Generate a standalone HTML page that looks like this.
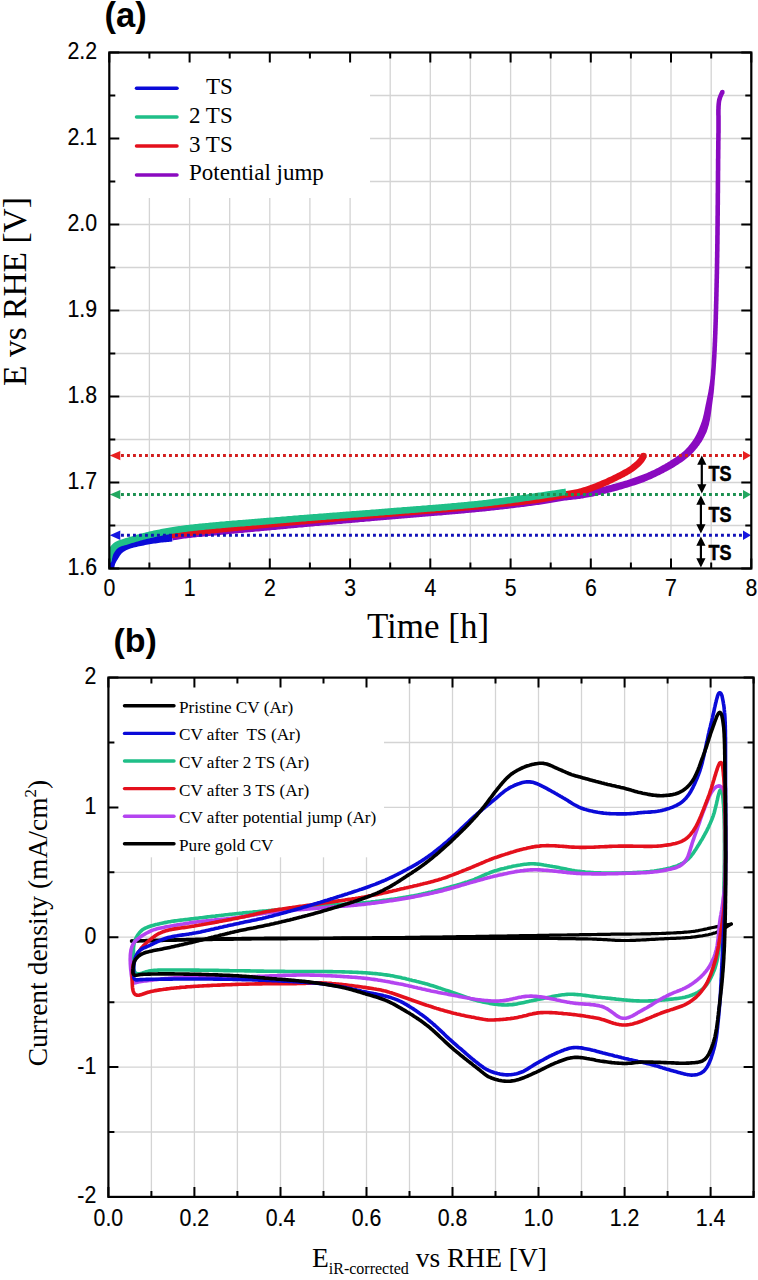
<!DOCTYPE html>
<html><head><meta charset="utf-8"><style>html,body{margin:0;padding:0;background:#fff;width:758px;height:1280px;overflow:hidden}svg{display:block}</style></head><body>
<svg width="758" height="1280" viewBox="0 0 758 1280">
<defs><clipPath id="ca"><rect x="109.3" y="52.5" width="642" height="516"/></clipPath><clipPath id="cb"><rect x="108.4" y="677.6" width="645.2" height="519.3"/></clipPath></defs>
<rect width="758" height="1280" fill="#fff"/>
<path d="M149.4 52.5V568.5M189.6 52.5V568.5M229.7 52.5V568.5M269.8 52.5V568.5M309.9 52.5V568.5M350.1 52.5V568.5M390.2 52.5V568.5M430.3 52.5V568.5M470.4 52.5V568.5M510.6 52.5V568.5M550.7 52.5V568.5M590.8 52.5V568.5M630.9 52.5V568.5M671.0 52.5V568.5M711.2 52.5V568.5M109.3 525.5H751.3M109.3 482.5H751.3M109.3 439.5H751.3M109.3 396.5H751.3M109.3 353.5H751.3M109.3 310.5H751.3M109.3 267.5H751.3M109.3 224.5H751.3M109.3 181.5H751.3M109.3 138.5H751.3M109.3 95.5H751.3" stroke="#d4d4d4" stroke-width="1.3" fill="none"/>
<rect x="110.3" y="53.5" width="259.7" height="144.5" fill="#fff"/>
<path d="M151.4 677.6V1196.9M194.4 677.6V1196.9M237.4 677.6V1196.9M280.5 677.6V1196.9M323.5 677.6V1196.9M366.5 677.6V1196.9M409.5 677.6V1196.9M452.5 677.6V1196.9M495.5 677.6V1196.9M538.5 677.6V1196.9M581.5 677.6V1196.9M624.6 677.6V1196.9M667.6 677.6V1196.9M710.6 677.6V1196.9M108.4 1132.0H753.6M108.4 1067.1H753.6M108.4 1002.2H753.6M108.4 937.2H753.6M108.4 872.3H753.6M108.4 807.4H753.6M108.4 742.5H753.6" stroke="#d4d4d4" stroke-width="1.3" fill="none"/>
<rect x="109.4" y="678.6" width="274.6" height="178.7" fill="#fff"/>
<g clip-path="url(#ca)"><path d="M172.7,540.5 174.8,540.1 175.8,539.9 177.1,539.7 178.5,539.4 179.9,539.2 181.4,539.0 182.8,538.8 184.3,538.6 185.7,538.4 187.2,538.2 188.7,538.1 190.2,537.9 191.7,537.7 193.2,537.6 194.6,537.4 196.1,537.3 197.6,537.1 199.1,537.0 200.6,536.8 202.1,536.7 203.6,536.5 205.1,536.4 206.6,536.2 208.0,536.1 209.5,535.9 211.0,535.8 212.5,535.6 214.0,535.5 215.5,535.4 217.0,535.2 218.5,535.1 220.0,534.9 221.5,534.8 223.0,534.7 224.5,534.5 225.9,534.4 227.4,534.2 228.9,534.1 230.4,534.0 231.9,533.8 233.4,533.7 234.9,533.6 236.4,533.4 237.9,533.3 239.4,533.1 240.9,533.0 242.4,532.9 243.9,532.7 245.4,532.6 246.9,532.5 248.3,532.3 249.8,532.2 251.3,532.0 252.8,531.9 254.3,531.8 255.8,531.6 257.3,531.5 258.8,531.4 260.3,531.2 261.8,531.1 263.3,531.0 264.8,530.8 266.3,530.7 267.8,530.5 269.3,530.4 270.8,530.3 272.3,530.1 273.7,530.0 275.2,529.9 276.7,529.7 278.2,529.6 279.7,529.4 281.2,529.3 282.7,529.2 284.2,529.0 285.7,528.9 287.2,528.7 288.7,528.6 290.2,528.5 291.7,528.3 293.2,528.2 294.7,528.1 296.1,527.9 297.6,527.8 299.1,527.6 300.6,527.5 302.1,527.4 303.6,527.2 305.1,527.1 306.6,527.0 308.1,526.8 309.6,526.7 311.1,526.6 312.6,526.4 314.1,526.3 315.6,526.1 317.1,526.0 318.6,525.9 320.0,525.7 321.5,525.6 323.0,525.5 324.5,525.3 326.0,525.2 327.5,525.1 329.0,524.9 330.5,524.8 332.0,524.7 333.5,524.5 335.0,524.4 336.5,524.3 338.0,524.1 339.5,524.0 341.0,523.9 342.5,523.7 343.9,523.6 345.4,523.5 346.9,523.3 348.4,523.2 349.9,523.1 351.4,522.9 352.9,522.8 354.4,522.7 355.9,522.5 357.4,522.4 358.9,522.3 360.4,522.1 361.9,522.0 363.4,521.9 364.9,521.7 366.4,521.6 367.8,521.5 369.3,521.4 370.8,521.2 372.3,521.1 373.8,521.0 375.3,520.8 376.8,520.7 378.3,520.6 379.8,520.4 381.3,520.3 382.8,520.2 384.3,520.0 385.8,519.9 387.3,519.8 388.8,519.7 390.3,519.5 391.7,519.4 393.2,519.3 394.7,519.2 396.2,519.0 397.7,518.9 399.2,518.8 400.7,518.7 402.2,518.5 403.7,518.4 405.2,518.3 406.7,518.2 408.2,518.0 409.7,517.9 411.2,517.8 412.7,517.7 414.2,517.6 415.7,517.4 417.1,517.3 418.6,517.2 420.1,517.1 421.6,516.9 423.1,516.8 424.6,516.7 426.1,516.6 427.6,516.5 429.1,516.3 430.6,516.2 432.1,516.1 433.6,516.0 435.1,515.8 436.6,515.7 438.1,515.6 439.6,515.5 441.1,515.4 442.6,515.2 444.1,515.1 445.6,515.0 447.1,514.8 448.6,514.7 450.1,514.6 451.5,514.5 453.0,514.3 454.5,514.2 456.0,514.1 457.5,513.9 459.0,513.8 460.5,513.7 462.0,513.5 463.5,513.4 465.0,513.3 466.5,513.1 468.0,513.0 469.5,512.8 471.0,512.7 472.5,512.6 474.0,512.4 475.5,512.3 477.0,512.1 478.5,512.0 480.0,511.8 481.5,511.7 483.0,511.5 484.5,511.4 486.0,511.2 487.5,511.0 489.0,510.9 490.4,510.7 491.9,510.6 493.4,510.4 494.9,510.2 496.4,510.1 497.9,509.9 499.4,509.7 500.9,509.6 502.4,509.4 503.9,509.2 505.4,509.0 506.9,508.9 508.4,508.7 509.9,508.5 511.4,508.3 512.8,508.2 514.3,508.0 515.8,507.8 517.3,507.6 518.8,507.4 520.3,507.2 521.8,507.1 523.3,506.9 524.8,506.7 526.3,506.5 527.8,506.3 529.3,506.1 530.7,505.9 532.2,505.7 533.7,505.5 535.2,505.3 536.7,505.1 538.2,504.9 539.7,504.7 541.2,504.5 542.7,504.2 544.2,504.0 545.7,503.8 547.2,503.5 548.7,503.3 550.2,503.0 551.7,502.7 553.1,502.5 554.6,502.2 556.1,501.9 557.6,501.7 559.0,501.4 560.5,501.2 561.9,501.0 563.4,500.7 564.8,500.5 566.3,500.4 567.7,500.2 569.2,500.0 570.7,499.9 572.2,499.7 573.7,499.6 575.2,499.4 576.7,499.3 578.2,499.1 579.8,498.9 581.3,498.6 582.8,498.4 584.3,498.1 585.8,497.8 587.3,497.6 588.8,497.3 590.3,497.0 591.8,496.7 593.3,496.4 594.7,496.0 596.2,495.7 597.7,495.4 599.2,495.1 600.7,494.7 602.1,494.4 603.6,494.1 605.1,493.7 606.6,493.3 608.0,493.0 609.5,492.6 611.0,492.2 612.4,491.8 613.9,491.5 615.3,491.1 616.8,490.7 618.3,490.2 619.7,489.8 621.2,489.4 622.6,489.0 624.1,488.6 625.5,488.1 627.0,487.7 628.4,487.2 629.9,486.8 631.3,486.3 632.8,485.8 634.2,485.4 635.6,484.9 637.1,484.4 638.5,483.9 639.9,483.4 641.4,482.9 642.8,482.4 644.3,481.9 645.7,481.3 647.1,480.7 648.5,480.1 650.0,479.5 651.4,478.9 652.8,478.3 654.2,477.6 655.6,477.0 656.9,476.3 658.3,475.6 659.7,475.0 661.0,474.3 662.4,473.6 663.7,472.9 665.1,472.1 666.4,471.4 667.7,470.7 669.1,470.0 670.4,469.2 671.7,468.4 673.1,467.7 674.4,466.9 675.7,466.1 677.0,465.3 678.3,464.4 679.6,463.6 680.8,462.7 682.1,461.9 683.4,461.0 684.7,460.1 685.9,459.1 687.2,458.1 688.4,457.1 689.6,456.1 690.8,455.0 691.9,453.8 693.0,452.7 694.1,451.5 695.2,450.3 696.2,449.1 697.2,447.9 698.1,446.6 699.1,445.4 700.0,444.1 700.9,442.7 701.8,441.4 702.6,440.0 703.4,438.6 704.1,437.2 704.8,435.8 705.5,434.3 706.2,432.9 706.8,431.4 707.3,429.9 707.8,428.4 708.2,426.9 708.7,425.4 709.1,423.9 709.4,422.3 709.8,420.8 710.1,419.3 710.3,417.7 710.6,416.2 710.8,414.7 711.0,413.2 711.2,411.7 711.4,410.2 711.6,408.7 711.8,407.2 712.0,405.7 712.2,404.2 712.4,402.7 712.6,401.3 712.8,399.8 713.0,398.3 713.2,396.8 713.4,395.3 713.6,393.8 713.8,392.2 713.9,390.7 714.1,389.2 714.2,387.7 714.3,386.2 714.5,384.7 714.6,383.2 714.7,381.7 714.8,380.2 715.0,378.7 715.1,377.2 715.2,375.7 715.4,374.2 715.5,372.7 715.6,371.2 715.7,369.7 715.8,368.2 715.9,366.7 716.0,365.1 716.1,363.6 716.2,362.1 716.3,360.6 716.4,359.1 716.5,357.6 716.6,356.1 716.6,354.6 716.7,353.1 716.8,351.6 716.9,350.1 716.9,348.6 717.0,347.1 717.1,345.6 717.1,344.1 717.2,342.6 717.3,341.1 717.3,339.6 717.4,338.1 717.4,336.6 717.5,335.1 717.6,333.6 717.6,332.1 717.7,330.6 717.7,329.1 717.8,327.6 717.8,326.1 717.9,324.6 717.9,323.1 718.0,321.6 718.0,320.1 718.1,318.6 718.1,317.1 718.1,315.6 718.2,314.1 718.2,312.6 718.3,311.1 718.3,309.6 718.4,308.1 718.4,306.6 718.4,305.1 718.5,303.6 718.5,302.1 718.6,300.6 718.6,299.1 718.6,297.6 718.7,296.1 718.7,294.6 718.7,293.1 718.8,291.6 718.8,290.1 718.8,288.6 718.9,287.1 718.9,285.6 718.9,284.1 719.0,282.6 719.0,281.1 719.0,279.6 719.1,278.1 719.1,276.6 719.1,275.1 719.2,273.6 719.2,272.1 719.2,270.6 719.3,269.1 719.3,267.6 719.3,266.1 719.3,264.6 719.4,263.1 719.4,261.6 719.4,260.1 719.4,258.6 719.5,257.1 719.5,255.6 719.5,254.1 719.5,252.6 719.6,251.1 719.6,249.6 719.6,248.1 719.6,246.6 719.6,245.1 719.7,243.6 719.7,242.1 719.7,240.6 719.7,239.1 719.7,237.6 719.7,236.1 719.8,234.6 719.8,233.1 719.8,231.6 719.8,230.1 719.8,228.6 719.8,227.1 719.9,225.6 719.9,224.1 719.9,222.6 719.9,221.1 719.9,219.6 719.9,218.1 719.9,216.6 720.0,215.1 720.0,213.6 720.0,212.1 720.0,210.6 720.0,209.1 720.0,207.6 720.0,206.1 720.1,204.6 720.1,203.1 720.1,201.6 720.1,200.1 720.1,198.6 720.1,197.1 720.1,195.6 720.1,194.1 720.2,192.6 720.2,191.1 720.2,189.6 720.2,188.1 720.2,186.6 720.2,185.1 720.2,183.6 720.2,182.1 720.3,180.6 720.3,179.1 720.3,177.6 720.3,176.1 720.3,174.6 720.3,173.1 720.3,171.6 720.4,170.1 720.4,168.6 720.4,167.1 720.4,165.6 720.4,164.1 720.4,162.6 720.4,161.1 720.4,159.6 720.5,158.1 720.5,156.6 720.5,155.1 720.5,153.6 720.5,152.1 720.5,150.6 720.6,149.1 720.6,147.6 720.6,146.1 720.6,144.6 720.6,143.1 720.6,141.6 720.7,140.1 720.7,138.6 720.7,137.1 720.7,135.6 720.7,134.1 720.8,132.6 720.8,131.1 720.8,129.6 720.8,128.1 720.8,126.6 720.8,125.1 720.8,123.6 720.8,122.0 720.8,120.5 720.8,119.0 720.8,117.5 720.8,116.0 720.7,114.5 720.7,113.1 720.7,111.6 720.7,110.1 720.8,108.6 720.8,107.2 720.9,105.7 721.0,104.3 721.1,102.9 721.3,101.5 721.6,100.2 722.0,98.9 722.4,97.6 722.9,96.4 723.4,95.3 723.8,94.5 724.5,93.0 720.3,91.0 719.6,92.6 719.2,93.4 718.7,94.6 718.1,96.0 717.6,97.5 717.1,99.1 716.8,100.7 716.6,102.3 716.4,103.9 716.3,105.4 716.2,107.0 716.2,108.5 716.1,110.0 716.1,111.6 716.1,113.1 716.1,114.6 716.2,116.1 716.2,117.6 716.2,119.1 716.2,120.6 716.2,122.1 716.2,123.6 716.2,125.1 716.2,126.6 716.2,128.0 716.2,129.5 716.2,131.0 716.2,132.5 716.1,134.0 716.1,135.5 716.1,137.0 716.1,138.5 716.1,140.0 716.0,141.5 716.0,143.0 716.0,144.5 716.0,146.0 716.0,147.5 716.0,149.0 715.9,150.5 715.9,152.0 715.9,153.5 715.9,155.0 715.9,156.5 715.9,158.0 715.8,159.5 715.8,161.0 715.8,162.5 715.8,164.0 715.8,165.5 715.8,167.0 715.8,168.5 715.8,170.0 715.7,171.5 715.7,173.0 715.7,174.5 715.7,176.0 715.7,177.5 715.7,179.0 715.7,180.5 715.6,182.0 715.6,183.5 715.6,185.0 715.6,186.5 715.6,188.0 715.6,189.5 715.6,191.0 715.6,192.5 715.5,194.0 715.5,195.5 715.5,197.0 715.5,198.5 715.5,200.0 715.5,201.5 715.5,203.0 715.5,204.5 715.4,206.0 715.4,207.5 715.4,209.0 715.4,210.5 715.4,212.0 715.4,213.5 715.4,215.0 715.3,216.5 715.3,218.0 715.3,219.5 715.3,221.0 715.3,222.5 715.3,224.0 715.3,225.5 715.2,227.0 715.2,228.5 715.2,230.0 715.2,231.5 715.2,233.0 715.2,234.5 715.1,236.0 715.1,237.5 715.1,239.0 715.1,240.5 715.1,242.0 715.1,243.5 715.0,245.0 715.0,246.5 715.0,248.0 715.0,249.5 715.0,251.0 714.9,252.5 714.9,254.0 714.9,255.5 714.9,257.0 714.8,258.5 714.8,260.0 714.8,261.5 714.8,263.0 714.7,264.5 714.7,266.0 714.7,267.5 714.7,269.0 714.6,270.5 714.6,272.0 714.6,273.5 714.5,275.0 714.5,276.5 714.5,278.0 714.4,279.5 714.4,281.0 714.4,282.5 714.3,284.0 714.3,285.5 714.3,287.0 714.2,288.5 714.2,290.0 714.2,291.5 714.1,293.0 714.1,294.5 714.1,296.0 714.0,297.5 714.0,299.0 714.0,300.5 713.9,302.0 713.9,303.5 713.8,305.0 713.8,306.5 713.8,308.0 713.7,309.5 713.7,311.0 713.6,312.5 713.6,314.0 713.5,315.5 713.5,317.0 713.5,318.5 713.4,320.0 713.4,321.5 713.3,323.0 713.3,324.5 713.2,326.0 713.2,327.5 713.1,329.0 713.1,330.5 713.0,332.0 713.0,333.4 712.9,334.9 712.9,336.4 712.8,337.9 712.7,339.4 712.7,340.9 712.6,342.4 712.5,343.9 712.5,345.4 712.4,346.9 712.3,348.4 712.3,349.9 712.2,351.4 712.1,352.9 712.1,354.4 712.0,355.9 711.9,357.4 711.8,358.9 711.7,360.4 711.6,361.9 711.6,363.4 711.5,364.8 711.4,366.3 711.3,367.8 711.1,369.3 711.0,370.8 710.9,372.3 710.8,373.8 710.7,375.3 710.5,376.7 710.4,378.2 710.2,379.7 710.0,381.2 709.8,382.7 709.6,384.1 709.4,385.6 709.1,387.1 708.9,388.5 708.6,390.0 708.4,391.5 708.1,392.9 707.8,394.4 707.5,395.8 707.2,397.3 706.9,398.8 706.6,400.2 706.3,401.7 706.0,403.2 705.7,404.6 705.4,406.1 705.1,407.6 704.8,409.0 704.5,410.5 704.2,412.0 703.9,413.4 703.6,414.8 703.2,416.3 702.9,417.7 702.5,419.0 702.1,420.4 701.7,421.8 701.2,423.1 700.7,424.4 700.2,425.8 699.7,427.1 699.1,428.4 698.6,429.7 698.1,431.0 697.5,432.3 696.9,433.6 696.3,434.8 695.6,436.1 694.9,437.3 694.2,438.5 693.5,439.6 692.7,440.8 691.8,442.0 691.0,443.1 690.1,444.2 689.2,445.3 688.3,446.4 687.4,447.5 686.4,448.5 685.5,449.5 684.5,450.5 683.4,451.4 682.4,452.3 681.3,453.2 680.2,454.1 679.0,454.9 677.8,455.7 676.6,456.6 675.4,457.4 674.2,458.2 673.0,459.0 671.8,459.8 670.5,460.6 669.3,461.4 668.0,462.1 666.8,462.9 665.5,463.6 664.2,464.4 662.9,465.1 661.6,465.8 660.3,466.5 659.0,467.2 657.7,467.9 656.4,468.5 655.1,469.2 653.8,469.9 652.4,470.5 651.1,471.1 649.8,471.7 648.4,472.3 647.1,472.9 645.8,473.5 644.4,474.1 643.1,474.6 641.7,475.1 640.3,475.6 638.9,476.1 637.6,476.6 636.2,477.1 634.8,477.6 633.3,478.1 631.9,478.5 630.5,479.0 629.1,479.5 627.7,479.9 626.3,480.4 624.9,480.8 623.4,481.2 622.0,481.7 620.6,482.1 619.2,482.5 617.7,482.9 616.3,483.3 614.9,483.7 613.4,484.1 612.0,484.5 610.6,484.9 609.1,485.3 607.7,485.6 606.3,486.0 604.8,486.4 603.4,486.7 601.9,487.0 600.5,487.4 599.1,487.7 597.6,488.0 596.1,488.4 594.7,488.7 593.2,489.0 591.8,489.3 590.3,489.6 588.9,489.9 587.4,490.2 586.0,490.5 584.5,490.8 583.1,491.0 581.6,491.3 580.2,491.5 578.7,491.7 577.3,491.9 575.9,492.1 574.4,492.3 572.9,492.4 571.4,492.6 570.0,492.7 568.4,492.9 566.9,493.0 565.4,493.2 563.9,493.4 562.3,493.6 560.8,493.8 559.3,494.1 557.8,494.3 556.3,494.6 554.8,494.9 553.4,495.1 551.9,495.4 550.4,495.7 548.9,495.9 547.5,496.2 546.0,496.4 544.5,496.7 543.1,496.9 541.6,497.1 540.1,497.3 538.7,497.5 537.2,497.8 535.7,498.0 534.2,498.2 532.8,498.4 531.3,498.6 529.8,498.8 528.3,499.0 526.8,499.2 525.4,499.4 523.9,499.5 522.4,499.7 520.9,499.9 519.4,500.1 517.9,500.3 516.4,500.5 515.0,500.7 513.5,500.8 512.0,501.0 510.5,501.2 509.0,501.4 507.5,501.5 506.0,501.7 504.6,501.9 503.1,502.1 501.6,502.2 500.1,502.4 498.6,502.6 497.1,502.7 495.6,502.9 494.1,503.1 492.7,503.2 491.2,503.4 489.7,503.6 488.2,503.7 486.7,503.9 485.2,504.0 483.7,504.2 482.2,504.3 480.7,504.5 479.3,504.7 477.8,504.8 476.3,505.0 474.8,505.1 473.3,505.3 471.8,505.4 470.3,505.5 468.8,505.7 467.3,505.8 465.8,506.0 464.4,506.1 462.9,506.2 461.4,506.4 459.9,506.5 458.4,506.6 456.9,506.8 455.4,506.9 453.9,507.0 452.4,507.2 450.9,507.3 449.4,507.4 447.9,507.5 446.5,507.7 445.0,507.8 443.5,507.9 442.0,508.1 440.5,508.2 439.0,508.3 437.5,508.4 436.0,508.5 434.5,508.7 433.0,508.8 431.5,508.9 430.0,509.0 428.5,509.2 427.0,509.3 425.5,509.4 424.0,509.5 422.5,509.6 421.1,509.8 419.6,509.9 418.1,510.0 416.6,510.1 415.1,510.3 413.6,510.4 412.1,510.5 410.6,510.6 409.1,510.7 407.6,510.9 406.1,511.0 404.6,511.1 403.1,511.2 401.6,511.4 400.1,511.5 398.6,511.6 397.1,511.7 395.6,511.9 394.1,512.0 392.6,512.1 391.1,512.2 389.6,512.4 388.1,512.5 386.7,512.6 385.2,512.7 383.7,512.9 382.2,513.0 380.7,513.1 379.2,513.3 377.7,513.4 376.2,513.5 374.7,513.7 373.2,513.8 371.7,513.9 370.2,514.0 368.7,514.2 367.2,514.3 365.7,514.4 364.2,514.6 362.7,514.7 361.2,514.8 359.7,515.0 358.3,515.1 356.8,515.2 355.3,515.4 353.8,515.5 352.3,515.6 350.8,515.8 349.3,515.9 347.8,516.0 346.3,516.2 344.8,516.3 343.3,516.4 341.8,516.6 340.3,516.7 338.8,516.8 337.3,517.0 335.8,517.1 334.3,517.2 332.8,517.4 331.4,517.5 329.9,517.6 328.4,517.8 326.9,517.9 325.4,518.0 323.9,518.2 322.4,518.3 320.9,518.4 319.4,518.6 317.9,518.7 316.4,518.8 314.9,519.0 313.4,519.1 311.9,519.2 310.4,519.4 308.9,519.5 307.4,519.7 305.9,519.8 304.5,519.9 303.0,520.1 301.5,520.2 300.0,520.3 298.5,520.5 297.0,520.6 295.5,520.7 294.0,520.9 292.5,521.0 291.0,521.2 289.5,521.3 288.0,521.4 286.5,521.6 285.0,521.7 283.5,521.9 282.0,522.0 280.5,522.1 279.1,522.3 277.6,522.4 276.1,522.6 274.6,522.7 273.1,522.8 271.6,523.0 270.1,523.1 268.6,523.2 267.1,523.4 265.6,523.5 264.1,523.7 262.6,523.8 261.1,523.9 259.6,524.1 258.2,524.2 256.7,524.3 255.2,524.5 253.7,524.6 252.2,524.7 250.7,524.9 249.2,525.0 247.7,525.1 246.2,525.3 244.7,525.4 243.2,525.6 241.7,525.7 240.2,525.8 238.7,526.0 237.2,526.1 235.7,526.2 234.2,526.4 232.8,526.5 231.3,526.7 229.8,526.8 228.3,526.9 226.8,527.1 225.3,527.2 223.8,527.3 222.3,527.5 220.8,527.6 219.3,527.8 217.8,527.9 216.3,528.1 214.8,528.2 213.3,528.3 211.8,528.5 210.3,528.6 208.8,528.8 207.3,528.9 205.9,529.1 204.4,529.2 202.9,529.4 201.4,529.5 199.9,529.6 198.4,529.8 196.9,530.0 195.4,530.1 193.9,530.3 192.4,530.4 190.9,530.6 189.4,530.7 187.9,530.9 186.4,531.1 184.9,531.3 183.4,531.4 181.9,531.6 180.3,531.8 178.8,532.1 177.3,532.3 175.8,532.6 174.4,532.8 173.4,533.0 171.3,533.5Z" fill="#8a0ac0"/><circle cx="722.4" cy="92.0" r="2.30" fill="#8a0ac0"/>
<path d="M165.5,539.3 167.6,538.9 168.7,538.8 170.0,538.6 171.4,538.3 172.9,538.1 174.4,537.9 175.9,537.7 177.3,537.5 178.8,537.3 180.3,537.1 181.8,536.9 183.2,536.7 184.7,536.5 186.2,536.4 187.7,536.2 189.2,536.0 190.7,535.9 192.2,535.7 193.7,535.5 195.1,535.3 196.6,535.2 198.1,535.0 199.6,534.9 201.1,534.7 202.6,534.5 204.1,534.4 205.6,534.2 207.1,534.0 208.6,533.9 210.1,533.7 211.6,533.6 213.1,533.4 214.5,533.2 216.0,533.1 217.5,532.9 219.0,532.8 220.5,532.6 222.0,532.5 223.5,532.3 225.0,532.1 226.5,532.0 228.0,531.8 229.5,531.7 231.0,531.5 232.5,531.4 234.0,531.2 235.5,531.1 236.9,530.9 238.4,530.8 239.9,530.6 241.4,530.4 242.9,530.3 244.4,530.1 245.9,530.0 247.4,529.8 248.9,529.7 250.4,529.5 251.9,529.4 253.4,529.2 254.9,529.1 256.4,528.9 257.9,528.8 259.4,528.6 260.8,528.5 262.3,528.3 263.8,528.2 265.3,528.0 266.8,527.9 268.3,527.8 269.8,527.6 271.3,527.5 272.8,527.3 274.3,527.2 275.8,527.0 277.3,526.9 278.8,526.7 280.3,526.6 281.8,526.4 283.3,526.3 284.8,526.2 286.3,526.0 287.7,525.9 289.2,525.7 290.7,525.6 292.2,525.5 293.7,525.3 295.2,525.2 296.7,525.0 298.2,524.9 299.7,524.8 301.2,524.6 302.7,524.5 304.2,524.4 305.7,524.2 307.2,524.1 308.7,524.0 310.2,523.8 311.7,523.7 313.2,523.6 314.7,523.4 316.2,523.3 317.6,523.2 319.1,523.0 320.6,522.9 322.1,522.8 323.6,522.6 325.1,522.5 326.6,522.4 328.1,522.3 329.6,522.1 331.1,522.0 332.6,521.9 334.1,521.7 335.6,521.6 337.1,521.5 338.6,521.3 340.1,521.2 341.6,521.1 343.1,521.0 344.6,520.8 346.1,520.7 347.6,520.6 349.1,520.5 350.6,520.3 352.1,520.2 353.6,520.1 355.1,519.9 356.6,519.8 358.0,519.7 359.5,519.6 361.0,519.4 362.5,519.3 364.0,519.2 365.5,519.1 367.0,518.9 368.5,518.8 370.0,518.7 371.5,518.5 373.0,518.4 374.5,518.3 376.0,518.2 377.5,518.0 379.0,517.9 380.5,517.8 382.0,517.6 383.5,517.5 385.0,517.4 386.5,517.3 388.0,517.1 389.5,517.0 391.0,516.9 392.5,516.8 394.0,516.6 395.5,516.5 397.0,516.4 398.5,516.3 400.0,516.1 401.4,516.0 402.9,515.9 404.4,515.8 405.9,515.6 407.4,515.5 408.9,515.4 410.4,515.3 411.9,515.2 413.4,515.0 414.9,514.9 416.4,514.8 417.9,514.7 419.4,514.5 420.9,514.4 422.4,514.3 423.9,514.2 425.4,514.1 426.9,513.9 428.4,513.8 429.9,513.7 431.4,513.6 432.9,513.4 434.4,513.3 435.9,513.2 437.4,513.1 438.9,513.0 440.4,512.8 441.9,512.7 443.4,512.6 444.9,512.5 446.4,512.3 447.9,512.2 449.4,512.1 450.9,511.9 452.4,511.8 453.9,511.7 455.4,511.6 456.9,511.4 458.4,511.3 459.9,511.2 461.4,511.0 462.8,510.9 464.3,510.8 465.8,510.6 467.3,510.5 468.8,510.4 470.3,510.2 471.8,510.1 473.3,510.0 474.8,509.8 476.3,509.7 477.8,509.5 479.3,509.4 480.8,509.2 482.3,509.1 483.8,508.9 485.3,508.8 486.8,508.6 488.3,508.5 489.8,508.3 491.3,508.2 492.8,508.1 494.3,507.9 495.8,507.8 497.3,507.6 498.8,507.5 500.3,507.3 501.8,507.1 503.3,507.0 504.8,506.8 506.3,506.7 507.8,506.5 509.3,506.4 510.7,506.2 512.2,506.0 513.7,505.9 515.2,505.7 516.7,505.6 518.2,505.4 519.7,505.2 521.2,505.0 522.7,504.9 524.2,504.7 525.7,504.5 527.2,504.3 528.7,504.2 530.2,504.0 531.7,503.8 533.2,503.6 534.7,503.4 536.2,503.2 537.7,503.0 539.2,502.7 540.7,502.5 542.2,502.3 543.7,502.1 545.2,501.8 546.7,501.5 548.2,501.3 549.7,501.0 551.2,500.7 552.7,500.4 554.2,500.1 555.6,499.8 557.1,499.5 558.6,499.2 560.1,498.9 561.5,498.6 563.0,498.4 564.4,498.1 565.9,497.8 567.4,497.6 568.8,497.3 570.3,497.1 571.8,496.8 573.3,496.6 574.8,496.3 576.3,496.0 577.9,495.7 579.4,495.3 580.9,494.9 582.4,494.5 583.9,494.1 585.4,493.6 586.8,493.2 588.3,492.7 589.7,492.2 591.2,491.7 592.6,491.2 594.1,490.6 595.5,490.1 596.9,489.6 598.3,489.0 599.7,488.5 601.1,487.9 602.6,487.3 604.0,486.7 605.4,486.1 606.8,485.5 608.2,484.9 609.6,484.3 610.9,483.6 612.3,483.0 613.7,482.3 615.1,481.6 616.4,481.0 617.8,480.3 619.1,479.6 620.5,478.9 621.8,478.3 623.2,477.6 624.5,476.9 625.9,476.1 627.2,475.4 628.6,474.6 630.0,473.8 631.3,473.0 632.6,472.1 633.9,471.2 635.2,470.3 636.5,469.3 637.7,468.3 638.9,467.3 640.1,466.2 641.3,465.1 642.4,463.8 643.5,462.5 644.4,461.2 645.2,460.0 645.7,459.1 646.4,457.5 640.6,454.5 639.8,456.0 639.5,456.7 639.0,457.5 638.3,458.5 637.4,459.5 636.5,460.5 635.5,461.4 634.5,462.3 633.4,463.3 632.3,464.1 631.2,465.0 630.1,465.9 628.9,466.7 627.7,467.4 626.5,468.2 625.3,468.9 624.0,469.6 622.7,470.3 621.5,471.0 620.1,471.7 618.8,472.4 617.5,473.1 616.2,473.7 614.8,474.4 613.5,475.1 612.2,475.7 610.8,476.4 609.5,477.0 608.1,477.6 606.8,478.3 605.5,478.9 604.1,479.5 602.8,480.1 601.4,480.6 600.0,481.2 598.7,481.8 597.3,482.3 595.9,482.9 594.5,483.4 593.1,483.9 591.8,484.5 590.4,485.0 589.0,485.5 587.6,486.0 586.2,486.4 584.8,486.9 583.4,487.3 582.0,487.8 580.6,488.2 579.2,488.6 577.8,488.9 576.4,489.2 575.0,489.5 573.6,489.8 572.1,490.1 570.7,490.3 569.2,490.6 567.7,490.8 566.2,491.1 564.7,491.3 563.2,491.6 561.7,491.9 560.3,492.2 558.8,492.5 557.3,492.8 555.8,493.1 554.3,493.4 552.9,493.7 551.4,493.9 550.0,494.2 548.5,494.5 547.0,494.8 545.6,495.0 544.1,495.3 542.7,495.5 541.2,495.8 539.7,496.0 538.3,496.2 536.8,496.4 535.3,496.6 533.8,496.8 532.3,497.0 530.9,497.2 529.4,497.4 527.9,497.6 526.4,497.8 524.9,498.0 523.4,498.1 522.0,498.3 520.5,498.5 519.0,498.7 517.5,498.8 516.0,499.0 514.5,499.2 513.0,499.3 511.5,499.5 510.0,499.6 508.6,499.8 507.1,500.0 505.6,500.1 504.1,500.3 502.6,500.4 501.1,500.6 499.6,500.7 498.1,500.9 496.6,501.0 495.1,501.2 493.6,501.3 492.1,501.5 490.6,501.6 489.2,501.8 487.7,501.9 486.2,502.1 484.7,502.2 483.2,502.4 481.7,502.5 480.2,502.7 478.7,502.8 477.2,503.0 475.7,503.1 474.2,503.2 472.7,503.4 471.2,503.5 469.7,503.7 468.2,503.8 466.7,503.9 465.3,504.1 463.8,504.2 462.3,504.3 460.8,504.5 459.3,504.6 457.8,504.7 456.3,504.9 454.8,505.0 453.3,505.1 451.8,505.2 450.3,505.4 448.8,505.5 447.3,505.6 445.8,505.8 444.3,505.9 442.8,506.0 441.3,506.1 439.8,506.3 438.3,506.4 436.8,506.5 435.3,506.6 433.8,506.7 432.4,506.9 430.9,507.0 429.4,507.1 427.9,507.2 426.4,507.4 424.9,507.5 423.4,507.6 421.9,507.7 420.4,507.8 418.9,508.0 417.4,508.1 415.9,508.2 414.4,508.3 412.9,508.5 411.4,508.6 409.9,508.7 408.4,508.8 406.9,508.9 405.4,509.1 403.9,509.2 402.4,509.3 400.9,509.4 399.4,509.6 397.9,509.7 396.4,509.8 394.9,509.9 393.4,510.1 391.9,510.2 390.4,510.3 388.9,510.4 387.4,510.6 385.9,510.7 384.4,510.8 382.9,510.9 381.4,511.1 379.9,511.2 378.4,511.3 376.9,511.5 375.4,511.6 374.0,511.7 372.5,511.8 371.0,512.0 369.5,512.1 368.0,512.2 366.5,512.4 365.0,512.5 363.5,512.6 362.0,512.7 360.5,512.9 359.0,513.0 357.5,513.1 356.0,513.2 354.5,513.4 353.0,513.5 351.5,513.6 350.0,513.8 348.5,513.9 347.0,514.0 345.5,514.1 344.0,514.3 342.5,514.4 341.0,514.5 339.5,514.6 338.0,514.8 336.5,514.9 335.0,515.0 333.5,515.2 332.0,515.3 330.5,515.4 329.0,515.5 327.5,515.7 326.1,515.8 324.6,515.9 323.1,516.1 321.6,516.2 320.1,516.3 318.6,516.5 317.1,516.6 315.6,516.7 314.1,516.9 312.6,517.0 311.1,517.1 309.6,517.3 308.1,517.4 306.6,517.5 305.1,517.7 303.6,517.8 302.1,517.9 300.6,518.1 299.1,518.2 297.6,518.3 296.1,518.5 294.6,518.6 293.1,518.7 291.6,518.9 290.1,519.0 288.6,519.2 287.1,519.3 285.6,519.4 284.1,519.6 282.6,519.7 281.1,519.9 279.6,520.0 278.1,520.2 276.6,520.3 275.2,520.5 273.7,520.6 272.2,520.7 270.7,520.9 269.2,521.0 267.7,521.2 266.2,521.3 264.7,521.5 263.2,521.6 261.7,521.8 260.2,521.9 258.7,522.1 257.2,522.2 255.7,522.4 254.2,522.5 252.7,522.7 251.2,522.8 249.7,523.0 248.2,523.1 246.7,523.3 245.2,523.4 243.7,523.6 242.3,523.7 240.8,523.9 239.3,524.0 237.8,524.2 236.3,524.3 234.8,524.5 233.3,524.6 231.8,524.8 230.3,525.0 228.8,525.1 227.3,525.3 225.8,525.4 224.3,525.6 222.8,525.7 221.3,525.9 219.8,526.0 218.3,526.2 216.8,526.4 215.3,526.5 213.8,526.7 212.4,526.8 210.9,527.0 209.4,527.2 207.9,527.3 206.4,527.5 204.9,527.6 203.4,527.8 201.9,528.0 200.4,528.1 198.9,528.3 197.4,528.5 195.9,528.6 194.4,528.8 192.9,529.0 191.4,529.1 189.9,529.3 188.4,529.5 186.9,529.6 185.4,529.8 183.9,530.0 182.4,530.2 180.9,530.4 179.4,530.5 177.9,530.7 176.4,530.9 174.9,531.2 173.4,531.4 171.9,531.6 170.4,531.8 169.0,532.0 167.7,532.3 166.6,532.4 164.5,532.7Z" fill="#e4101c"/><circle cx="643.5" cy="456.0" r="3.30" fill="#e4101c"/>
<path d="M114.0,570.4 114.2,568.4 114.3,567.4 114.5,566.4 114.8,565.2 115.1,564.1 115.6,563.0 116.2,561.8 116.9,560.6 117.6,559.4 118.3,558.2 119.1,557.0 119.8,555.8 120.6,554.8 121.3,553.8 122.1,553.0 123.0,552.2 124.0,551.5 125.0,550.9 126.1,550.3 127.3,549.8 128.5,549.3 129.8,548.8 131.1,548.3 132.4,547.9 133.8,547.6 135.1,547.2 136.6,546.9 138.0,546.6 139.4,546.3 140.9,546.0 142.3,545.7 143.8,545.4 145.2,545.1 146.7,544.8 148.2,544.6 149.6,544.3 151.0,544.1 152.5,543.8 154.0,543.6 155.4,543.4 156.9,543.2 158.3,543.0 159.8,542.8 161.3,542.6 162.7,542.5 164.2,542.3 165.7,542.2 167.2,542.0 168.6,541.9 169.8,541.7 170.7,541.7 172.4,541.5 171.6,533.5 169.9,533.7 169.0,533.8 167.8,533.9 166.4,534.1 164.9,534.2 163.4,534.4 161.9,534.5 160.3,534.7 158.8,534.9 157.3,535.1 155.8,535.3 154.3,535.5 152.8,535.7 151.3,535.9 149.7,536.2 148.2,536.4 146.7,536.7 145.2,537.0 143.7,537.3 142.2,537.6 140.8,537.9 139.3,538.2 137.8,538.5 136.3,538.8 134.8,539.1 133.3,539.5 131.7,539.8 130.2,540.3 128.6,540.7 127.1,541.2 125.6,541.8 124.0,542.5 122.5,543.2 121.0,544.0 119.4,544.9 118.0,546.0 116.6,547.2 115.4,548.5 114.2,549.9 113.2,551.3 112.3,552.6 111.5,554.0 110.7,555.4 109.9,556.7 109.1,558.1 108.4,559.7 107.7,561.3 107.1,562.9 106.7,564.6 106.4,566.2 106.2,567.4 106.0,569.6Z" fill="#0a0ad8"/><circle cx="110.0" cy="570.0" r="4.00" fill="#0a0ad8"/>
<path d="M111.7,560.7 112.1,558.6 112.4,557.6 112.6,556.5 113.0,555.3 113.4,554.1 114.0,553.0 114.6,551.9 115.3,550.9 116.0,550.0 116.9,549.1 117.8,548.3 118.8,547.6 119.8,547.0 120.9,546.5 122.1,546.1 123.4,545.7 124.8,545.3 126.2,544.9 127.7,544.4 129.2,544.0 130.6,543.6 132.0,543.1 133.5,542.7 134.9,542.2 136.3,541.8 137.7,541.4 139.2,541.0 140.6,540.6 142.0,540.2 143.4,539.8 144.9,539.4 146.3,539.1 147.7,538.7 149.2,538.4 150.6,538.1 152.1,537.7 153.5,537.4 155.0,537.1 156.4,536.8 157.9,536.5 159.3,536.2 160.8,535.9 162.3,535.6 163.7,535.3 165.2,535.0 166.6,534.8 168.1,534.5 169.6,534.3 171.0,534.0 172.5,533.8 174.0,533.5 175.4,533.3 176.9,533.1 178.4,532.9 179.8,532.7 181.3,532.5 182.8,532.3 184.3,532.1 185.7,531.9 187.2,531.7 188.7,531.5 190.2,531.3 191.7,531.2 193.1,531.0 194.6,530.8 196.1,530.7 197.6,530.5 199.1,530.3 200.6,530.2 202.1,530.0 203.5,529.9 205.0,529.7 206.5,529.6 208.0,529.4 209.5,529.3 211.0,529.2 212.5,529.0 214.0,528.9 215.5,528.8 217.0,528.6 218.5,528.5 219.9,528.4 221.4,528.2 222.9,528.1 224.4,528.0 225.9,527.8 227.4,527.7 228.9,527.6 230.4,527.5 231.9,527.3 233.4,527.2 234.9,527.1 236.4,527.0 237.9,526.8 239.4,526.7 240.9,526.6 242.3,526.5 243.8,526.4 245.3,526.2 246.8,526.1 248.3,526.0 249.8,525.9 251.3,525.8 252.8,525.6 254.3,525.5 255.8,525.4 257.3,525.3 258.8,525.2 260.3,525.0 261.8,524.9 263.3,524.8 264.8,524.7 266.3,524.5 267.8,524.4 269.3,524.3 270.8,524.2 272.3,524.1 273.8,523.9 275.2,523.8 276.7,523.7 278.2,523.6 279.7,523.4 281.2,523.3 282.7,523.2 284.2,523.1 285.7,522.9 287.2,522.8 288.7,522.7 290.2,522.6 291.7,522.4 293.2,522.3 294.7,522.2 296.2,522.1 297.7,522.0 299.2,521.8 300.7,521.7 302.1,521.6 303.6,521.5 305.1,521.4 306.6,521.3 308.1,521.1 309.6,521.0 311.1,520.9 312.6,520.8 314.1,520.7 315.6,520.6 317.1,520.4 318.6,520.3 320.1,520.2 321.6,520.1 323.1,520.0 324.6,519.9 326.1,519.8 327.6,519.6 329.1,519.5 330.6,519.4 332.1,519.3 333.6,519.2 335.0,519.1 336.5,519.0 338.0,518.9 339.5,518.7 341.0,518.6 342.5,518.5 344.0,518.4 345.5,518.3 347.0,518.2 348.5,518.1 350.0,518.0 351.5,517.8 353.0,517.7 354.5,517.6 356.0,517.5 357.5,517.4 359.0,517.3 360.5,517.2 362.0,517.0 363.5,516.9 365.0,516.8 366.5,516.7 368.0,516.6 369.5,516.5 371.0,516.3 372.5,516.2 374.0,516.1 375.5,516.0 376.9,515.9 378.4,515.7 379.9,515.6 381.4,515.5 382.9,515.4 384.4,515.3 385.9,515.1 387.4,515.0 388.9,514.9 390.4,514.8 391.9,514.7 393.4,514.5 394.9,514.4 396.4,514.3 397.9,514.2 399.4,514.1 400.9,514.0 402.4,513.8 403.9,513.7 405.4,513.6 406.9,513.5 408.3,513.4 409.8,513.3 411.3,513.1 412.8,513.0 414.3,512.9 415.8,512.8 417.3,512.7 418.8,512.5 420.3,512.4 421.8,512.3 423.3,512.2 424.8,512.1 426.3,512.0 427.8,511.8 429.3,511.7 430.8,511.6 432.3,511.5 433.8,511.4 435.3,511.2 436.8,511.1 438.3,511.0 439.8,510.9 441.3,510.7 442.8,510.6 444.3,510.5 445.8,510.4 447.3,510.2 448.7,510.1 450.2,510.0 451.7,509.8 453.2,509.7 454.7,509.6 456.2,509.4 457.7,509.3 459.2,509.2 460.7,509.0 462.2,508.9 463.7,508.8 465.2,508.6 466.7,508.5 468.2,508.3 469.7,508.2 471.2,508.0 472.7,507.9 474.2,507.7 475.7,507.6 477.2,507.4 478.7,507.3 480.2,507.1 481.7,506.9 483.2,506.8 484.7,506.6 486.2,506.4 487.7,506.3 489.2,506.1 490.7,505.9 492.1,505.7 493.6,505.5 495.1,505.3 496.6,505.2 498.1,505.0 499.6,504.8 501.1,504.6 502.6,504.4 504.1,504.2 505.6,504.0 507.1,503.8 508.6,503.6 510.0,503.4 511.5,503.2 513.0,503.0 514.5,502.8 516.0,502.6 517.5,502.4 519.0,502.2 520.5,501.9 522.0,501.7 523.4,501.5 524.9,501.3 526.4,501.1 527.9,500.9 529.4,500.7 530.9,500.5 532.4,500.2 533.8,500.0 535.3,499.8 536.8,499.6 538.3,499.4 539.8,499.2 541.3,498.9 542.8,498.7 544.2,498.5 545.7,498.3 547.2,498.1 548.7,497.8 550.2,497.6 551.7,497.4 553.2,497.2 554.7,496.9 556.1,496.7 557.6,496.5 559.1,496.2 560.6,496.0 562.0,495.8 563.4,495.6 564.4,495.4 566.5,495.1 565.5,488.5 563.4,488.9 562.3,489.0 561.0,489.2 559.6,489.5 558.1,489.7 556.6,489.9 555.1,490.2 553.6,490.4 552.2,490.6 550.7,490.9 549.2,491.1 547.7,491.3 546.2,491.5 544.8,491.8 543.3,492.0 541.8,492.2 540.3,492.4 538.8,492.6 537.4,492.8 535.9,493.1 534.4,493.3 532.9,493.5 531.4,493.7 529.9,493.9 528.4,494.1 527.0,494.4 525.5,494.6 524.0,494.8 522.5,495.0 521.0,495.2 519.5,495.4 518.1,495.6 516.6,495.8 515.1,496.0 513.6,496.2 512.1,496.5 510.6,496.7 509.2,496.9 507.7,497.1 506.2,497.3 504.7,497.5 503.2,497.7 501.7,497.9 500.3,498.0 498.8,498.2 497.3,498.4 495.8,498.6 494.3,498.8 492.8,499.0 491.4,499.2 489.9,499.3 488.4,499.5 486.9,499.7 485.4,499.9 483.9,500.0 482.4,500.2 481.0,500.4 479.5,500.5 478.0,500.7 476.5,500.9 475.0,501.0 473.5,501.2 472.0,501.3 470.5,501.5 469.1,501.6 467.6,501.8 466.1,501.9 464.6,502.0 463.1,502.2 461.6,502.3 460.1,502.5 458.6,502.6 457.1,502.7 455.6,502.9 454.2,503.0 452.7,503.1 451.2,503.3 449.7,503.4 448.2,503.5 446.7,503.7 445.2,503.8 443.7,503.9 442.2,504.0 440.7,504.2 439.2,504.3 437.7,504.4 436.2,504.5 434.7,504.7 433.2,504.8 431.8,504.9 430.3,505.0 428.8,505.1 427.3,505.3 425.8,505.4 424.3,505.5 422.8,505.6 421.3,505.7 419.8,505.9 418.3,506.0 416.8,506.1 415.3,506.2 413.8,506.3 412.3,506.4 410.8,506.6 409.3,506.7 407.8,506.8 406.3,506.9 404.8,507.0 403.3,507.1 401.8,507.3 400.4,507.4 398.9,507.5 397.4,507.6 395.9,507.7 394.4,507.8 392.9,508.0 391.4,508.1 389.9,508.2 388.4,508.3 386.9,508.4 385.4,508.6 383.9,508.7 382.4,508.8 380.9,508.9 379.4,509.0 377.9,509.2 376.4,509.3 374.9,509.4 373.4,509.5 371.9,509.6 370.4,509.8 368.9,509.9 367.5,510.0 366.0,510.1 364.5,510.2 363.0,510.3 361.5,510.5 360.0,510.6 358.5,510.7 357.0,510.8 355.5,510.9 354.0,511.0 352.5,511.1 351.0,511.3 349.5,511.4 348.0,511.5 346.5,511.6 345.0,511.7 343.5,511.8 342.0,511.9 340.5,512.1 339.0,512.2 337.5,512.3 336.0,512.4 334.6,512.5 333.1,512.6 331.6,512.7 330.1,512.8 328.6,513.0 327.1,513.1 325.6,513.2 324.1,513.3 322.6,513.4 321.1,513.5 319.6,513.6 318.1,513.7 316.6,513.9 315.1,514.0 313.6,514.1 312.1,514.2 310.6,514.3 309.1,514.4 307.6,514.6 306.1,514.7 304.6,514.8 303.1,514.9 301.6,515.0 300.1,515.1 298.6,515.3 297.1,515.4 295.6,515.5 294.1,515.6 292.7,515.7 291.2,515.9 289.7,516.0 288.2,516.1 286.7,516.2 285.2,516.4 283.7,516.5 282.2,516.6 280.7,516.7 279.2,516.9 277.7,517.0 276.2,517.1 274.7,517.2 273.2,517.4 271.7,517.5 270.2,517.6 268.7,517.7 267.2,517.8 265.7,518.0 264.2,518.1 262.7,518.2 261.3,518.3 259.8,518.5 258.3,518.6 256.8,518.7 255.3,518.8 253.8,518.9 252.3,519.1 250.8,519.2 249.3,519.3 247.8,519.4 246.3,519.5 244.8,519.7 243.3,519.8 241.8,519.9 240.3,520.0 238.8,520.1 237.3,520.3 235.8,520.4 234.3,520.5 232.8,520.6 231.3,520.8 229.8,520.9 228.3,521.0 226.8,521.1 225.4,521.3 223.9,521.4 222.4,521.5 220.9,521.6 219.4,521.8 217.9,521.9 216.4,522.0 214.9,522.2 213.4,522.3 211.9,522.5 210.4,522.6 208.9,522.7 207.4,522.9 205.9,523.0 204.4,523.2 202.9,523.3 201.4,523.5 199.9,523.6 198.4,523.8 196.9,523.9 195.4,524.1 193.9,524.3 192.4,524.4 190.9,524.6 189.4,524.8 187.9,524.9 186.4,525.1 184.9,525.3 183.4,525.5 181.9,525.7 180.4,525.9 178.9,526.1 177.4,526.3 175.9,526.6 174.4,526.8 172.9,527.0 171.4,527.3 169.9,527.5 168.5,527.8 167.0,528.0 165.5,528.3 164.0,528.6 162.5,528.8 161.0,529.1 159.5,529.4 158.0,529.7 156.5,530.0 155.1,530.3 153.6,530.6 152.1,531.0 150.6,531.3 149.2,531.6 147.7,532.0 146.2,532.3 144.7,532.7 143.2,533.0 141.8,533.4 140.3,533.8 138.8,534.2 137.4,534.6 135.9,535.0 134.4,535.5 133.0,535.9 131.5,536.4 130.1,536.8 128.7,537.2 127.2,537.7 125.8,538.1 124.4,538.5 123.0,538.9 121.5,539.4 119.9,539.9 118.3,540.5 116.7,541.2 115.2,542.1 113.7,543.1 112.4,544.3 111.2,545.6 110.0,546.9 109.0,548.4 108.1,549.9 107.4,551.5 106.8,553.1 106.3,554.7 105.9,556.1 105.7,557.2 105.3,559.3Z" fill="#1fbf88"/><circle cx="108.5" cy="560.0" r="3.30" fill="#1fbf88"/></g><path d="M121 455.6H742" stroke="#d21e1e" stroke-width="3" stroke-dasharray="2.9 3.1" fill="none"/><path d="M109.8 455.6l10.5 -4.7v9.4z M751 455.6l-8 -4.7v9.4z" fill="#e82020"/>
<path d="M121 494.6H742" stroke="#1c9050" stroke-width="3" stroke-dasharray="2.9 3.1" fill="none"/><path d="M109.8 494.6l10.5 -4.7v9.4z M751 494.6l-8 -4.7v9.4z" fill="#22a860"/>
<path d="M121 535.2H742" stroke="#1212b8" stroke-width="3" stroke-dasharray="2.9 3.1" fill="none"/><path d="M109.8 535.2l10.5 -4.7v9.4z M751 535.2l-8 -4.7v9.4z" fill="#1515e0"/>
<path d="M701.8 462.6V486.5" stroke="#000" stroke-width="2.2"/><path d="M701.8 455.6l-4.6 9.2h9.2z M701.8 493.5l-4.6 -9.2h9.2z" fill="#000"/>
<path d="M700.9 502.5V526.5" stroke="#000" stroke-width="2.2"/><path d="M700.9 495.5l-4.6 9.2h9.2z M700.9 533.5l-4.6 -9.2h9.2z" fill="#000"/>
<path d="M700.9 543.5V560.5" stroke="#000" stroke-width="2.2"/><path d="M700.9 536.5l-4.6 9.2h9.2z M700.9 567.5l-4.6 -9.2h9.2z" fill="#000"/>
<text x="708.5" y="481" style="font-family:'Liberation Sans',sans-serif;font-weight:bold;font-size:21.5px" stroke="#000" stroke-width="0.5" textLength="23" lengthAdjust="spacingAndGlyphs">TS</text>
<text x="708.5" y="522" style="font-family:'Liberation Sans',sans-serif;font-weight:bold;font-size:21.5px" stroke="#000" stroke-width="0.5" textLength="23" lengthAdjust="spacingAndGlyphs">TS</text>
<text x="708.5" y="559.8" style="font-family:'Liberation Sans',sans-serif;font-weight:bold;font-size:21.5px" stroke="#000" stroke-width="0.5" textLength="23" lengthAdjust="spacingAndGlyphs">TS</text>
<g clip-path="url(#cb)"><path d="M131.4,940.8 133.5,940.8 134.6,940.7 135.9,940.7 137.4,940.7 138.9,940.6 140.4,940.6 141.9,940.6 143.4,940.5 144.9,940.5 146.4,940.4 147.9,940.4 149.4,940.4 150.9,940.3 152.4,940.3 153.9,940.3 155.4,940.2 156.9,940.2 158.4,940.1 159.9,940.1 161.4,940.1 162.9,940.0 164.4,940.0 165.9,940.0 167.4,939.9 168.9,939.9 170.4,939.8 171.9,939.8 173.4,939.8 174.9,939.7 176.4,939.7 177.9,939.7 179.4,939.6 180.9,939.6 182.4,939.5 183.9,939.5 185.4,939.5 186.9,939.4 188.4,939.4 189.9,939.4 191.4,939.3 192.9,939.3 194.4,939.3 195.9,939.2 197.4,939.2 198.9,939.2 200.4,939.1 201.9,939.1 203.4,939.1 204.9,939.0 206.4,939.0 207.9,939.0 209.4,938.9 210.9,938.9 212.4,938.9 213.9,938.9 215.4,938.8 216.9,938.8 218.4,938.8 219.9,938.8 221.4,938.7 222.9,938.7 224.4,938.7 225.9,938.7 227.4,938.6 228.9,938.6 230.4,938.6 231.9,938.6 233.4,938.6 234.9,938.5 236.4,938.5 237.9,938.5 239.4,938.5 240.9,938.5 242.4,938.4 243.9,938.4 245.4,938.4 246.9,938.4 248.4,938.4 249.9,938.4 251.4,938.4 252.9,938.3 254.4,938.3 255.9,938.3 257.4,938.3 258.9,938.3 260.4,938.3 261.9,938.3 263.4,938.3 264.9,938.2 266.4,938.2 267.9,938.2 269.4,938.2 270.9,938.2 272.4,938.2 273.9,938.2 275.4,938.2 276.9,938.2 278.4,938.2 279.9,938.2 281.4,938.2 282.9,938.1 284.4,938.1 285.9,938.1 287.4,938.1 288.9,938.1 290.4,938.1 291.9,938.1 293.4,938.1 294.9,938.1 296.4,938.1 297.9,938.1 299.4,938.1 300.9,938.1 302.4,938.1 303.9,938.1 305.4,938.1 306.9,938.0 308.4,938.0 309.9,938.0 311.4,938.0 312.9,938.0 314.4,938.0 315.9,938.0 317.4,938.0 318.9,938.0 320.4,938.0 321.9,938.0 323.4,938.0 324.9,938.0 326.4,938.0 327.9,938.0 329.4,938.0 330.9,938.0 332.4,938.0 333.9,937.9 335.4,937.9 336.9,937.9 338.4,937.9 339.9,937.9 341.4,937.9 342.9,937.9 344.4,937.9 345.9,937.9 347.4,937.9 348.9,937.9 350.4,937.9 351.9,937.9 353.4,937.9 354.9,937.8 356.4,937.8 357.9,937.8 359.4,937.8 360.9,937.8 362.4,937.8 363.9,937.8 365.4,937.8 366.9,937.8 368.4,937.8 369.9,937.8 371.4,937.8 372.9,937.7 374.4,937.7 375.9,937.7 377.4,937.7 378.9,937.7 380.4,937.7 381.9,937.7 383.4,937.7 384.9,937.6 386.4,937.6 387.9,937.6 389.4,937.6 390.9,937.6 392.4,937.6 393.9,937.6 395.4,937.5 396.9,937.5 398.4,937.5 399.9,937.5 401.4,937.5 402.9,937.5 404.4,937.5 405.9,937.4 407.4,937.4 408.9,937.4 410.4,937.4 411.9,937.4 413.4,937.3 414.9,937.3 416.4,937.3 417.9,937.3 419.4,937.3 420.9,937.2 422.4,937.2 423.9,937.2 425.4,937.2 426.9,937.2 428.4,937.2 429.9,937.1 431.4,937.1 432.9,937.1 434.4,937.1 435.9,937.0 437.4,937.0 438.9,937.0 440.4,937.0 441.9,937.0 443.4,936.9 444.9,936.9 446.4,936.9 447.9,936.9 449.4,936.9 450.9,936.8 452.4,936.8 453.9,936.8 455.4,936.8 456.9,936.7 458.4,936.7 459.9,936.7 461.4,936.7 462.9,936.7 464.4,936.6 465.9,936.6 467.4,936.6 468.9,936.6 470.4,936.5 471.9,936.5 473.4,936.5 474.9,936.5 476.4,936.4 477.9,936.4 479.4,936.4 480.9,936.4 482.4,936.4 483.9,936.3 485.4,936.3 486.9,936.3 488.4,936.3 489.9,936.2 491.4,936.2 492.9,936.2 494.4,936.2 495.9,936.1 497.4,936.1 498.9,936.1 500.4,936.1 501.9,936.0 503.4,936.0 504.9,936.0 506.4,936.0 507.9,935.9 509.4,935.9 510.9,935.9 512.4,935.9 513.9,935.8 515.4,935.8 516.9,935.8 518.4,935.8 519.9,935.7 521.4,935.7 522.9,935.7 524.4,935.7 525.9,935.6 527.4,935.6 528.9,935.6 530.4,935.6 531.9,935.5 533.4,935.5 534.9,935.5 536.4,935.5 537.9,935.4 539.4,935.4 540.9,935.4 542.4,935.4 543.9,935.3 545.4,935.3 546.9,935.3 548.4,935.3 549.9,935.2 551.4,935.2 552.9,935.2 554.4,935.2 555.9,935.1 557.4,935.1 558.9,935.1 560.4,935.1 561.9,935.0 563.4,935.0 564.9,935.0 566.4,935.0 567.9,934.9 569.4,934.9 570.9,934.9 572.4,934.9 573.9,934.8 575.4,934.8 576.9,934.8 578.4,934.8 579.9,934.7 581.4,934.7 582.9,934.7 584.4,934.7 585.9,934.6 587.4,934.6 588.9,934.6 590.4,934.6 591.9,934.5 593.4,934.5 594.9,934.5 596.4,934.5 597.9,934.4 599.4,934.4 600.9,934.4 602.4,934.4 603.9,934.3 605.4,934.3 606.9,934.3 608.4,934.3 609.9,934.3 611.4,934.2 612.9,934.2 614.4,934.2 615.9,934.2 617.4,934.2 618.9,934.2 620.4,934.2 621.9,934.1 623.4,934.1 624.9,934.1 626.4,934.1 627.9,934.1 629.4,934.1 630.9,934.1 632.4,934.0 633.9,934.0 635.4,934.0 636.8,934.0 638.3,934.0 639.8,934.0 641.3,933.9 642.8,933.9 644.3,933.9 645.8,933.9 647.3,933.8 648.8,933.8 650.3,933.8 651.8,933.7 653.3,933.7 654.8,933.7 656.3,933.6 657.8,933.6 659.3,933.5 660.8,933.5 662.3,933.4 663.8,933.3 665.3,933.3 666.8,933.2 668.3,933.2 669.8,933.1 671.3,933.0 672.8,933.0 674.3,932.9 675.8,932.8 677.3,932.7 678.8,932.6 680.3,932.6 681.8,932.5 683.3,932.3 684.8,932.2 686.3,932.1 687.8,932.0 689.3,931.8 690.8,931.7 692.3,931.5 693.8,931.3 695.2,931.1 696.7,930.8 698.2,930.6 699.7,930.3 701.2,930.0 702.6,929.7 704.1,929.4 705.6,929.1 707.0,928.8 708.5,928.4 709.9,928.1 711.4,927.8 712.9,927.5 714.3,927.2 715.8,926.9 717.3,926.6 718.8,926.3 720.2,926.0 721.7,925.8 723.2,925.5 724.7,925.2 726.1,925.0 727.5,924.7 728.7,924.5 729.6,924.3 731.3,924.0" stroke="#000" stroke-width="3.2" fill="none" stroke-linecap="round" stroke-linejoin="round"/>
<path d="M731.3,924.0 729.5,925.1 728.6,925.7 727.4,926.4 726.2,927.2 724.9,928.0 723.7,928.8 722.4,929.5 721.0,930.2 719.7,930.9 718.4,931.6 717.0,932.1 715.6,932.7 714.1,933.1 712.7,933.6 711.3,934.0 709.8,934.3 708.3,934.7 706.9,935.0 705.4,935.2 703.9,935.5 702.4,935.8 701.0,936.0 699.5,936.2 698.0,936.4 696.5,936.6 695.0,936.8 693.5,937.0 692.0,937.2 690.5,937.4 689.0,937.5 687.5,937.6 686.0,937.7 684.5,937.8 683.0,937.9 681.5,938.0 680.0,938.1 678.5,938.2 677.0,938.2 675.5,938.3 674.0,938.3 672.5,938.4 671.0,938.4 669.5,938.5 668.0,938.6 666.5,938.6 665.0,938.7 663.5,938.8 662.0,938.8 660.5,938.9 659.0,939.0 657.5,939.1 656.1,939.2 654.6,939.3 653.1,939.3 651.6,939.4 650.1,939.5 648.6,939.6 647.1,939.7 645.6,939.8 644.1,939.9 642.6,939.9 641.1,940.0 639.6,940.1 638.1,940.2 636.6,940.2 635.1,940.3 633.6,940.3 632.1,940.4 630.6,940.4 629.1,940.5 627.6,940.5 626.1,940.5 624.6,940.5 623.1,940.5 621.6,940.5 620.1,940.4 618.6,940.4 617.0,940.3 615.6,940.3 614.1,940.2 612.6,940.1 611.1,940.0 609.6,939.9 608.1,939.8 606.6,939.7 605.1,939.6 603.6,939.6 602.1,939.5 600.6,939.4 599.1,939.3 597.6,939.3 596.1,939.2 594.6,939.1 593.1,939.1 591.6,939.0 590.1,939.0 588.6,939.0 587.1,938.9 585.6,938.9 584.1,938.9 582.6,938.9 581.1,938.8 579.6,938.8 578.0,938.8 576.5,938.8 575.0,938.7 573.5,938.7 572.0,938.7 570.5,938.7 569.0,938.7 567.5,938.6 566.0,938.6 564.5,938.6 563.0,938.6 561.5,938.6 560.0,938.6 558.5,938.6 557.0,938.5 555.5,938.5 554.0,938.5 552.5,938.5 551.0,938.5 549.5,938.5 548.0,938.5 546.5,938.5 545.0,938.5 543.5,938.4 542.0,938.4 540.5,938.4 539.0,938.4 537.5,938.4 536.0,938.4 534.5,938.4 533.0,938.4 531.5,938.4 530.0,938.4 528.5,938.4 527.0,938.4 525.5,938.4 524.0,938.4 522.5,938.3 521.0,938.3 519.5,938.3 518.0,938.3 516.5,938.3 515.0,938.3 513.5,938.3 512.0,938.3 510.5,938.3 509.0,938.3 507.5,938.3 506.0,938.3 504.5,938.3 503.0,938.3 501.5,938.3 500.0,938.3 498.5,938.3 497.0,938.3 495.5,938.3 494.0,938.3 492.5,938.3 491.0,938.3 489.5,938.3 488.0,938.3 486.5,938.3 485.0,938.3 483.5,938.3 482.0,938.3 480.5,938.3 479.0,938.3 477.5,938.3 476.0,938.3 474.5,938.3 473.0,938.3 471.5,938.3 469.9,938.3 468.4,938.3 466.9,938.3 465.4,938.3 463.9,938.3 462.4,938.3 460.9,938.3 459.4,938.3 457.9,938.3 456.4,938.3 454.9,938.3 453.4,938.3 451.9,938.3 450.4,938.3 448.9,938.3 447.4,938.3 445.9,938.3 444.4,938.3 442.9,938.3 441.4,938.3 439.9,938.3 438.4,938.3 436.9,938.3 435.4,938.3 433.9,938.3 432.4,938.3 430.9,938.3 429.4,938.3 427.9,938.3 426.4,938.3 424.9,938.3 423.4,938.3 421.9,938.3 420.4,938.3 418.9,938.3 417.4,938.3 415.9,938.3 414.4,938.3 412.9,938.3 411.4,938.3 409.9,938.3 408.4,938.3 406.9,938.3 405.4,938.3 403.9,938.3 402.4,938.3 400.9,938.3 399.4,938.3 397.9,938.3 396.4,938.3 394.9,938.3 393.4,938.3 391.9,938.3 390.4,938.3 388.9,938.3 387.4,938.3 385.9,938.3 384.4,938.3 382.9,938.3 381.4,938.3 379.9,938.3 378.4,938.3 376.9,938.3 375.4,938.3 373.9,938.3 372.4,938.3 370.9,938.4 369.4,938.4 367.9,938.4 366.4,938.4 364.8,938.4 363.3,938.4 361.8,938.4 360.3,938.4 358.8,938.4 357.3,938.4 355.8,938.4 354.3,938.4 352.8,938.4 351.3,938.4 349.8,938.4 348.3,938.4 346.8,938.4 345.3,938.4 343.8,938.4 342.3,938.4 340.8,938.5 339.3,938.5 337.8,938.5 336.3,938.5 334.8,938.5 333.3,938.5 331.8,938.5 330.3,938.5 328.8,938.5 327.3,938.5 325.8,938.5 324.3,938.5 322.8,938.5 321.3,938.5 319.8,938.5 318.3,938.6 316.8,938.6 315.3,938.6 313.8,938.6 312.3,938.6 310.8,938.6 309.3,938.6 307.8,938.6 306.3,938.6 304.8,938.6 303.3,938.6 301.8,938.7 300.3,938.7 298.8,938.7 297.3,938.7 295.8,938.7 294.3,938.7 292.8,938.7 291.3,938.7 289.8,938.7 288.3,938.7 286.8,938.8 285.3,938.8 283.8,938.8 282.3,938.8 280.8,938.8 279.3,938.8 277.8,938.8 276.3,938.8 274.8,938.8 273.3,938.9 271.8,938.9 270.3,938.9 268.8,938.9 267.3,938.9 265.8,938.9 264.3,938.9 262.8,938.9 261.3,939.0 259.8,939.0 258.3,939.0 256.7,939.0 255.2,939.0 253.7,939.0 252.2,939.0 250.7,939.1 249.2,939.1 247.7,939.1 246.2,939.1 244.7,939.1 243.2,939.1 241.7,939.2 240.2,939.2 238.7,939.2 237.2,939.2 235.7,939.2 234.2,939.2 232.7,939.3 231.2,939.3 229.7,939.3 228.2,939.3 226.7,939.3 225.2,939.4 223.7,939.4 222.2,939.4 220.7,939.4 219.2,939.4 217.7,939.5 216.2,939.5 214.7,939.5 213.2,939.5 211.7,939.6 210.2,939.6 208.7,939.6 207.2,939.6 205.7,939.7 204.2,939.7 202.7,939.7 201.2,939.7 199.7,939.8 198.2,939.8 196.7,939.8 195.2,939.9 193.7,939.9 192.2,939.9 190.7,939.9 189.2,940.0 187.7,940.0 186.2,940.0 184.7,940.1 183.2,940.1 181.7,940.1 180.2,940.2 178.7,940.2 177.2,940.2 175.7,940.3 174.2,940.3 172.7,940.3 171.2,940.4 169.7,940.4 168.2,940.4 166.7,940.5 165.2,940.5 163.7,940.5 162.2,940.6 160.7,940.6 159.2,940.6 157.7,940.7 156.2,940.7 154.7,940.7 153.2,940.8 151.7,940.8 150.2,940.8 148.7,940.8 147.2,940.9 145.7,940.9 144.2,940.9 142.7,941.0 141.2,941.0 139.7,941.0 138.2,941.1 136.7,941.1 135.2,941.1 134.0,941.1 133.1,941.2 131.4,941.2" stroke="#000" stroke-width="3.2" fill="none" stroke-linecap="round" stroke-linejoin="round"/>
<path d="M135.8,973.1 134.9,972.1 134.2,970.9 133.8,969.5 133.5,968.0 133.4,966.5 133.4,965.0 133.3,963.5 133.4,962.0 133.4,960.5 133.4,959.0 133.5,957.5 133.5,956.0 133.5,954.5 133.5,953.0 133.5,951.5 133.5,950.0 133.5,948.5 133.6,947.0 133.8,945.5 134.0,944.1 134.3,942.6 134.7,941.2 135.2,939.7 135.8,938.4 136.5,937.1 137.3,935.8 138.1,934.5 139.0,933.3 139.9,932.2 141.0,931.1 142.1,930.1 143.3,929.3 144.6,928.5 145.9,927.9 147.3,927.3 148.7,926.8 150.1,926.3 151.6,925.8 153.0,925.4 154.4,925.0 155.9,924.6 157.3,924.3 158.8,923.9 160.3,923.6 161.7,923.3 163.2,922.9 164.7,922.6 166.1,922.4 167.6,922.1 169.1,921.8 170.6,921.6 172.1,921.3 173.5,921.1 175.0,920.9 176.5,920.7 178.0,920.5 179.5,920.3 181.0,920.1 182.5,920.0 184.0,919.8 185.5,919.6 186.9,919.5 188.4,919.3 189.9,919.1 191.4,918.9 192.9,918.8 194.4,918.6 195.9,918.4 197.4,918.2 198.9,918.0 200.3,917.8 201.8,917.7 203.3,917.5 204.8,917.3 206.3,917.1 207.8,916.9 209.3,916.8 210.8,916.6 212.3,916.4 213.8,916.2 215.2,916.1 216.7,915.9 218.2,915.7 219.7,915.5 221.2,915.4 222.7,915.2 224.2,915.0 225.7,914.8 227.2,914.7 228.7,914.5 230.2,914.3 231.6,914.2 233.1,914.0 234.6,913.9 236.1,913.7 237.6,913.5 239.1,913.4 240.6,913.2 242.1,913.1 243.6,912.9 245.1,912.8 246.6,912.6 248.1,912.5 249.6,912.4 251.1,912.2 252.5,912.1 254.0,911.9 255.5,911.8 257.0,911.7 258.5,911.5 260.0,911.4 261.5,911.3 263.0,911.1 264.5,911.0 266.0,910.9 267.5,910.7 269.0,910.6 270.5,910.5 272.0,910.3 273.5,910.2 275.0,910.0 276.5,909.9 277.9,909.7 279.4,909.6 280.9,909.5 282.4,909.3 283.9,909.2 285.4,909.0 286.9,908.9 288.4,908.7 289.9,908.6 291.4,908.5 292.9,908.3 294.4,908.2 295.9,908.0 297.4,907.9 298.9,907.7 300.3,907.6 301.8,907.5 303.3,907.3 304.8,907.2 306.3,907.0 307.8,906.9 309.3,906.8 310.8,906.6 312.3,906.5 313.8,906.4 315.3,906.2 316.8,906.1 318.3,906.0 319.8,905.8 321.3,905.7 322.8,905.6 324.3,905.5 325.8,905.3 327.3,905.2 328.7,905.1 330.2,905.0 331.7,904.9 333.2,904.8 334.7,904.7 336.2,904.6 337.7,904.5 339.2,904.5 340.7,904.4 342.2,904.3 343.7,904.2 345.2,904.1 346.7,904.0 348.2,903.9 349.7,903.8 351.2,903.7 352.7,903.7 354.2,903.5 355.7,903.4 357.2,903.3 358.7,903.2 360.2,903.1 361.7,903.0 363.2,902.8 364.7,902.7 366.2,902.5 367.7,902.4 369.2,902.2 370.6,902.1 372.1,901.9 373.6,901.7 375.1,901.6 376.6,901.4 378.1,901.2 379.6,901.0 381.1,900.8 382.6,900.6 384.0,900.4 385.5,900.3 387.0,900.1 388.5,899.9 390.0,899.6 391.5,899.4 393.0,899.2 394.5,899.0 395.9,898.8 397.4,898.6 398.9,898.3 400.4,898.1 401.9,897.9 403.3,897.6 404.8,897.4 406.3,897.1 407.8,896.9 409.3,896.6 410.7,896.3 412.2,896.0 413.7,895.8 415.2,895.5 416.6,895.2 418.1,894.9 419.6,894.6 421.0,894.3 422.5,893.9 424.0,893.6 425.4,893.3 426.9,892.9 428.3,892.6 429.8,892.2 431.3,891.9 432.7,891.5 434.2,891.2 435.6,890.8 437.1,890.4 438.5,890.1 440.0,889.7 441.5,889.3 442.9,889.0 444.4,888.6 445.8,888.2 447.3,887.8 448.7,887.4 450.2,887.0 451.6,886.6 453.0,886.2 454.5,885.8 455.9,885.4 457.4,885.0 458.8,884.6 460.3,884.1 461.7,883.7 463.1,883.2 464.5,882.8 466.0,882.3 467.4,881.9 468.8,881.4 470.2,880.9 471.7,880.4 473.1,879.9 474.5,879.3 475.8,878.7 477.2,878.2 478.6,877.6 480.0,877.0 481.3,876.3 482.7,875.7 484.1,875.1 485.5,874.5 486.8,873.9 488.2,873.4 489.6,872.8 491.0,872.3 492.4,871.8 493.8,871.3 495.3,870.8 496.7,870.4 498.1,869.9 499.6,869.5 501.0,869.1 502.5,868.7 503.9,868.4 505.4,868.0 506.9,867.7 508.3,867.3 509.8,867.0 511.2,866.7 512.7,866.3 514.2,866.0 515.7,865.8 517.1,865.5 518.6,865.2 520.1,865.0 521.6,864.7 523.1,864.5 524.5,864.3 526.0,864.2 527.5,864.0 529.0,863.9 530.5,863.8 532.0,863.8 533.5,863.8 535.0,863.9 536.5,864.0 538.0,864.1 539.5,864.3 541.0,864.5 542.5,864.7 543.9,865.0 545.4,865.2 546.9,865.5 548.4,865.7 549.9,866.0 551.3,866.2 552.8,866.5 554.3,866.7 555.8,867.0 557.2,867.3 558.7,867.6 560.2,867.9 561.6,868.2 563.1,868.5 564.6,868.8 566.1,869.1 567.5,869.4 569.0,869.7 570.5,870.0 571.9,870.3 573.4,870.5 574.9,870.8 576.4,871.0 577.9,871.2 579.4,871.4 580.8,871.6 582.3,871.8 583.8,871.9 585.3,872.1 586.8,872.2 588.3,872.3 589.8,872.4 591.3,872.5 592.8,872.6 594.3,872.7 595.8,872.8 597.3,872.8 598.8,872.9 600.3,872.9 601.8,873.0 603.3,873.0 604.8,873.0 606.3,873.1 607.8,873.1 609.3,873.1 610.8,873.1 612.3,873.1 613.8,873.1 615.3,873.1 616.8,873.1 618.3,873.0 619.8,873.0 621.3,873.0 622.8,872.9 624.3,872.9 625.8,872.9 627.3,872.8 628.8,872.8 630.3,872.7 631.8,872.7 633.3,872.6 634.8,872.6 636.3,872.5 637.8,872.4 639.3,872.3 640.8,872.3 642.3,872.2 643.8,872.1 645.3,872.0 646.8,871.8 648.3,871.7 649.8,871.6 651.3,871.4 652.8,871.2 654.2,871.1 655.7,870.9 657.2,870.6 658.7,870.4 660.2,870.1 661.6,869.9 663.1,869.6 664.6,869.2 666.0,868.9 667.5,868.6 669.0,868.2 670.4,867.9 671.9,867.5 673.3,867.0 674.7,866.6 676.2,866.1 677.6,865.6 678.9,865.0 680.3,864.4 681.6,863.7 683.0,863.0 684.2,862.2 685.5,861.3 686.6,860.4 687.8,859.4 688.8,858.4 689.9,857.3 690.9,856.2 691.8,855.0 692.7,853.8 693.6,852.6 694.4,851.4 695.3,850.1 696.1,848.9 696.9,847.6 697.7,846.3 698.5,845.1 699.3,843.8 700.1,842.5 700.8,841.2 701.6,839.9 702.4,838.7 703.1,837.4 703.9,836.0 704.6,834.7 705.3,833.4 706.0,832.1 706.7,830.8 707.4,829.4 708.0,828.1 708.7,826.7 709.3,825.3 709.9,824.0 710.5,822.6 711.1,821.2 711.7,819.8 712.2,818.5 712.8,817.0 713.3,815.6 713.7,814.2 714.2,812.8 714.6,811.3 714.9,809.9 715.3,808.4 715.7,807.0 716.0,805.5 716.4,804.0 716.7,802.6 717.0,801.1 717.4,799.7 717.7,798.2 718.0,796.7 718.4,795.3 718.8,793.8 719.2,792.4 719.6,791.1 720.2,790.1 720.9,789.7 721.5,790.1 721.9,791.2 722.3,792.6 722.5,794.1 722.7,795.5 722.8,797.0 723.0,798.5 723.1,800.0 723.2,801.5 723.3,803.0 723.5,804.5 723.6,806.0 723.7,807.5 723.8,809.0 723.8,810.5 723.9,812.0 724.0,813.5 724.0,815.0 724.1,816.5 724.1,818.0 724.2,819.5 724.2,821.0 724.2,822.5 724.3,824.0 724.3,825.5 724.3,827.0 724.3,828.5 724.4,830.0 724.4,831.5 724.4,833.0 724.4,834.5 724.4,836.0 724.4,837.5 724.4,839.0 724.4,840.5 724.4,842.0 724.5,843.5 724.5,845.0 724.5,846.5 724.5,848.0 724.5,849.5 724.4,851.0 724.4,852.5 724.4,854.0 724.4,855.5 724.4,857.0 724.4,858.5 724.4,860.0 724.4,861.5 724.4,863.0 724.4,864.5 724.3,866.0 724.3,867.5 724.3,869.0 724.3,870.5 724.3,872.0 724.2,873.5 724.2,875.0 724.2,876.5 724.1,878.0 724.1,879.5 724.1,881.0 724.0,882.5 724.0,884.0 724.0,885.5 723.9,887.0 723.9,888.5 723.9,890.0 723.8,891.5 723.8,893.0 723.7,894.5 723.7,896.0 723.6,897.5 723.5,899.0 723.5,900.5 723.4,902.0 723.3,903.5 723.3,905.0 723.2,906.5 723.1,908.0 723.0,909.5 722.9,911.0 722.8,912.5 722.7,914.0 722.6,915.5 722.5,917.0 722.4,918.5 722.3,920.0 722.2,921.5 722.0,923.0 721.9,924.5 721.7,926.0 721.6,927.4 721.4,928.9 721.3,930.4 721.1,931.9 721.0,933.4 720.8,934.9 720.6,936.4 720.4,937.9 720.2,939.4 720.0,940.9 719.8,942.3 719.6,943.8 719.4,945.3 719.2,946.8 719.0,948.3 718.8,949.8 718.6,951.3 718.4,952.7 718.1,954.2 717.9,955.7 717.7,957.2 717.4,958.7 717.1,960.1 716.8,961.6 716.4,963.1 716.0,964.5 715.6,965.9 715.2,967.4 714.7,968.8 714.2,970.2 713.6,971.6 713.0,973.0 712.5,974.4 711.8,975.7 711.2,977.1 710.5,978.4 709.8,979.8 709.1,981.1 708.3,982.3 707.4,983.6 706.6,984.8 705.6,985.9 704.6,987.1 703.6,988.1 702.4,989.1 701.3,990.1 700.1,990.9 698.8,991.7 697.5,992.5 696.2,993.2 694.8,993.8 693.4,994.4 692.1,995.0 690.7,995.5 689.2,996.0 687.8,996.4 686.4,996.8 684.9,997.2 683.4,997.5 682.0,997.8 680.5,998.0 679.0,998.2 677.5,998.5 676.0,998.6 674.5,998.8 673.0,999.0 671.5,999.1 670.1,999.3 668.6,999.4 667.1,999.6 665.6,999.7 664.1,999.9 662.6,1000.0 661.1,1000.1 659.6,1000.3 658.1,1000.4 656.6,1000.5 655.1,1000.6 653.6,1000.7 652.1,1000.8 650.6,1000.9 649.1,1000.9 647.6,1001.0 646.1,1001.0 644.6,1001.0 643.1,1001.0 641.6,1001.0 640.1,1001.0 638.6,1000.9 637.1,1000.9 635.6,1000.8 634.1,1000.7 632.6,1000.6 631.1,1000.5 629.6,1000.4 628.1,1000.3 626.6,1000.1 625.2,1000.0 623.7,999.9 622.2,999.7 620.7,999.5 619.2,999.4 617.7,999.2 616.2,999.1 614.7,998.9 613.2,998.8 611.7,998.6 610.2,998.4 608.7,998.3 607.2,998.1 605.8,998.0 604.3,997.8 602.8,997.7 601.3,997.5 599.8,997.3 598.3,997.2 596.8,997.0 595.3,996.8 593.8,996.6 592.3,996.4 590.9,996.2 589.4,996.0 587.9,995.8 586.4,995.6 584.9,995.4 583.4,995.2 581.9,995.0 580.4,994.8 578.9,994.7 577.5,994.6 576.0,994.5 574.5,994.4 573.0,994.3 571.5,994.3 570.0,994.3 568.5,994.3 567.0,994.4 565.5,994.5 564.0,994.7 562.5,994.8 561.0,995.0 559.5,995.2 558.0,995.5 556.6,995.7 555.1,996.0 553.6,996.3 552.1,996.6 550.7,996.9 549.2,997.2 547.7,997.5 546.3,997.8 544.8,998.1 543.3,998.4 541.9,998.7 540.4,999.0 538.9,999.3 537.4,999.6 536.0,999.9 534.5,1000.1 533.0,1000.4 531.5,1000.8 530.1,1001.1 528.6,1001.4 527.2,1001.7 525.7,1002.1 524.2,1002.4 522.8,1002.7 521.3,1003.0 519.8,1003.3 518.4,1003.6 516.9,1003.9 515.4,1004.2 513.9,1004.4 512.4,1004.6 510.9,1004.7 509.4,1004.8 507.9,1004.9 506.4,1005.0 504.9,1005.0 503.4,1004.9 502.0,1004.9 500.5,1004.8 499.0,1004.7 497.5,1004.5 496.0,1004.3 494.5,1004.1 493.0,1003.9 491.5,1003.7 490.0,1003.4 488.6,1003.1 487.1,1002.8 485.6,1002.5 484.2,1002.2 482.7,1001.9 481.2,1001.6 479.8,1001.2 478.3,1000.9 476.9,1000.5 475.4,1000.1 474.0,999.7 472.5,999.3 471.1,998.8 469.7,998.4 468.3,997.9 466.8,997.4 465.4,996.9 464.0,996.4 462.6,995.9 461.2,995.4 459.8,994.9 458.3,994.4 456.9,993.9 455.5,993.4 454.1,992.9 452.7,992.5 451.2,992.0 449.8,991.5 448.4,991.0 447.0,990.6 445.6,990.1 444.1,989.6 442.7,989.1 441.3,988.6 439.9,988.1 438.4,987.7 437.0,987.2 435.6,986.7 434.2,986.3 432.7,985.8 431.3,985.4 429.9,985.0 428.4,984.5 427.0,984.1 425.5,983.7 424.1,983.3 422.6,982.9 421.2,982.6 419.7,982.2 418.3,981.8 416.8,981.5 415.4,981.1 413.9,980.7 412.4,980.4 411.0,980.0 409.5,979.7 408.1,979.3 406.6,979.0 405.2,978.6 403.7,978.3 402.2,978.0 400.8,977.6 399.3,977.3 397.8,977.0 396.4,976.7 394.9,976.4 393.4,976.1 391.9,975.8 390.5,975.6 389.0,975.3 387.5,975.1 386.0,974.9 384.5,974.7 383.0,974.5 381.6,974.3 380.1,974.1 378.6,974.0 377.1,973.8 375.6,973.6 374.1,973.5 372.6,973.4 371.1,973.2 369.6,973.1 368.1,973.0 366.6,972.9 365.1,972.8 363.6,972.7 362.1,972.6 360.6,972.5 359.1,972.5 357.6,972.4 356.1,972.3 354.6,972.3 353.1,972.2 351.6,972.1 350.1,972.1 348.6,972.0 347.1,972.0 345.6,972.0 344.1,971.9 342.6,971.9 341.1,971.8 339.6,971.8 338.1,971.8 336.6,971.7 335.1,971.7 333.6,971.7 332.1,971.6 330.6,971.6 329.1,971.6 327.6,971.6 326.1,971.5 324.6,971.5 323.1,971.5 321.6,971.5 320.1,971.5 318.6,971.5 317.1,971.5 315.6,971.5 314.1,971.5 312.6,971.5 311.1,971.5 309.6,971.5 308.1,971.6 306.6,971.6 305.1,971.6 303.6,971.6 302.1,971.6 300.6,971.6 299.1,971.6 297.6,971.6 296.1,971.6 294.6,971.6 293.1,971.5 291.6,971.5 290.1,971.5 288.6,971.5 287.1,971.5 285.6,971.5 284.1,971.4 282.6,971.4 281.1,971.4 279.6,971.4 278.1,971.4 276.6,971.3 275.1,971.3 273.6,971.3 272.1,971.3 270.6,971.3 269.1,971.2 267.6,971.2 266.1,971.2 264.6,971.2 263.1,971.1 261.6,971.1 260.1,971.1 258.6,971.1 257.1,971.1 255.6,971.0 254.1,971.0 252.6,971.0 251.1,971.0 249.6,970.9 248.1,970.9 246.6,970.9 245.1,970.9 243.6,970.8 242.1,970.8 240.6,970.8 239.1,970.8 237.6,970.8 236.1,970.7 234.6,970.7 233.1,970.7 231.6,970.7 230.1,970.7 228.6,970.6 227.1,970.6 225.6,970.6 224.1,970.6 222.6,970.5 221.1,970.5 219.6,970.5 218.1,970.4 216.6,970.4 215.1,970.4 213.6,970.4 212.1,970.3 210.6,970.3 209.1,970.3 207.6,970.3 206.1,970.2 204.6,970.2 203.1,970.2 201.6,970.2 200.1,970.2 198.6,970.1 197.1,970.1 195.6,970.1 194.1,970.1 192.6,970.1 191.1,970.1 189.6,970.0 188.1,970.0 186.6,970.0 185.1,970.0 183.6,970.0 182.1,970.0 180.6,970.0 179.1,970.0 177.6,970.0 176.1,970.0 174.6,970.0 173.1,970.0 171.6,970.0 170.1,970.0 168.6,970.0 167.1,970.0 165.6,970.0 164.1,970.0 162.6,970.0 161.1,970.0 159.6,970.0 158.1,970.1 156.6,970.2 155.1,970.2 153.6,970.4 152.1,970.5 150.6,970.7 149.2,971.0 147.7,971.4 146.3,971.8 144.9,972.3 143.4,972.7 142.0,973.2 140.6,973.6 139.1,973.8 137.7,973.8 136.4,973.4 135.8,973.1Z" stroke="#1fbf88" stroke-width="3.6" fill="none" stroke-linecap="round" stroke-linejoin="round"/>
<path d="M134.0,982.8 133.2,982.2 132.6,981.0 132.2,979.7 131.9,978.2 131.6,976.7 131.4,975.2 131.2,973.7 131.1,972.3 130.9,970.8 130.7,969.3 130.6,967.8 130.5,966.3 130.4,964.8 130.3,963.3 130.3,961.8 130.2,960.3 130.2,958.8 130.3,957.3 130.3,955.8 130.4,954.3 130.6,952.8 130.8,951.3 131.0,949.8 131.4,948.4 131.8,947.0 132.4,945.6 133.0,944.2 133.8,943.0 134.7,941.8 135.7,940.7 136.8,939.7 138.0,938.8 139.2,937.8 140.4,937.0 141.7,936.1 142.9,935.3 144.2,934.5 145.5,933.7 146.8,933.0 148.1,932.3 149.4,931.6 150.8,931.0 152.2,930.4 153.6,929.9 155.0,929.4 156.4,929.0 157.9,928.6 159.4,928.3 160.8,928.0 162.3,927.7 163.8,927.4 165.2,927.1 166.7,926.8 168.2,926.5 169.7,926.3 171.1,926.0 172.6,925.7 174.1,925.4 175.6,925.2 177.0,924.9 178.5,924.7 180.0,924.4 181.5,924.2 183.0,924.0 184.5,923.7 185.9,923.5 187.4,923.3 188.9,923.1 190.4,922.8 191.9,922.6 193.4,922.4 194.8,922.2 196.3,922.0 197.8,921.8 199.3,921.7 200.8,921.5 202.3,921.3 203.8,921.1 205.3,921.0 206.8,920.8 208.3,920.7 209.8,920.5 211.2,920.4 212.7,920.2 214.2,920.1 215.7,919.9 217.2,919.8 218.7,919.6 220.2,919.5 221.7,919.3 223.2,919.2 224.7,919.0 226.2,918.9 227.7,918.7 229.2,918.5 230.7,918.4 232.1,918.2 233.6,918.0 235.1,917.9 236.6,917.7 238.1,917.5 239.6,917.3 241.1,917.1 242.6,916.8 244.0,916.6 245.5,916.4 247.0,916.1 248.5,915.9 250.0,915.6 251.4,915.4 252.9,915.1 254.4,914.9 255.9,914.6 257.4,914.4 258.8,914.1 260.3,913.9 261.8,913.7 263.3,913.4 264.8,913.2 266.3,913.0 267.7,912.8 269.2,912.6 270.7,912.4 272.2,912.2 273.7,912.1 275.2,911.9 276.7,911.7 278.2,911.6 279.7,911.4 281.2,911.3 282.7,911.2 284.2,911.0 285.6,910.9 287.1,910.7 288.6,910.6 290.1,910.5 291.6,910.3 293.1,910.2 294.6,910.1 296.1,910.0 297.6,909.8 299.1,909.7 300.6,909.6 302.1,909.5 303.6,909.4 305.1,909.2 306.6,909.1 308.1,909.0 309.6,908.9 311.1,908.8 312.6,908.6 314.1,908.5 315.6,908.4 317.1,908.3 318.5,908.1 320.0,908.0 321.5,907.9 323.0,907.8 324.5,907.6 326.0,907.5 327.5,907.4 329.0,907.3 330.5,907.1 332.0,907.0 333.5,906.9 335.0,906.8 336.5,906.7 338.0,906.6 339.5,906.4 341.0,906.3 342.5,906.2 344.0,906.1 345.5,906.0 347.0,905.9 348.5,905.7 350.0,905.6 351.5,905.5 352.9,905.4 354.4,905.2 355.9,905.1 357.4,905.0 358.9,904.8 360.4,904.7 361.9,904.5 363.4,904.4 364.9,904.2 366.4,904.0 367.9,903.8 369.4,903.7 370.9,903.5 372.3,903.3 373.8,903.1 375.3,902.9 376.8,902.7 378.3,902.5 379.8,902.3 381.3,902.1 382.8,901.9 384.2,901.7 385.7,901.5 387.2,901.3 388.7,901.0 390.2,900.8 391.7,900.6 393.1,900.4 394.6,900.1 396.1,899.9 397.6,899.7 399.1,899.4 400.6,899.2 402.0,898.9 403.5,898.7 405.0,898.4 406.5,898.2 408.0,897.9 409.4,897.7 410.9,897.4 412.4,897.1 413.9,896.9 415.3,896.6 416.8,896.3 418.3,896.0 419.8,895.7 421.2,895.4 422.7,895.1 424.2,894.8 425.6,894.5 427.1,894.2 428.6,893.9 430.0,893.6 431.5,893.3 433.0,892.9 434.4,892.6 435.9,892.3 437.4,891.9 438.8,891.6 440.3,891.2 441.7,890.9 443.2,890.5 444.6,890.1 446.1,889.7 447.5,889.3 449.0,888.9 450.4,888.5 451.9,888.1 453.3,887.7 454.7,887.3 456.2,886.8 457.6,886.4 459.1,886.0 460.5,885.5 461.9,885.1 463.4,884.7 464.8,884.3 466.3,883.9 467.7,883.4 469.1,883.0 470.6,882.6 472.0,882.2 473.5,881.8 474.9,881.4 476.4,881.0 477.8,880.6 479.2,880.2 480.7,879.8 482.1,879.4 483.6,879.0 485.0,878.6 486.5,878.2 487.9,877.8 489.4,877.4 490.8,877.0 492.3,876.7 493.8,876.3 495.2,876.0 496.7,875.7 498.1,875.3 499.6,875.0 501.1,874.7 502.5,874.4 504.0,874.0 505.5,873.7 506.9,873.4 508.4,873.1 509.9,872.8 511.3,872.5 512.8,872.2 514.3,871.9 515.8,871.6 517.2,871.4 518.7,871.2 520.2,870.9 521.7,870.7 523.2,870.6 524.7,870.4 526.2,870.2 527.7,870.1 529.2,870.0 530.7,869.9 532.2,869.9 533.7,869.8 535.2,869.8 536.7,869.8 538.2,869.9 539.7,869.9 541.2,870.0 542.7,870.1 544.2,870.2 545.7,870.3 547.1,870.4 548.6,870.5 550.1,870.7 551.6,870.8 553.1,871.0 554.6,871.1 556.1,871.3 557.6,871.5 559.1,871.6 560.6,871.8 562.1,871.9 563.6,872.1 565.1,872.3 566.5,872.4 568.0,872.6 569.5,872.7 571.0,872.9 572.5,873.0 574.0,873.1 575.5,873.2 577.0,873.4 578.5,873.4 580.0,873.5 581.5,873.6 583.0,873.6 584.5,873.7 586.0,873.7 587.5,873.8 589.0,873.8 590.5,873.8 592.0,873.9 593.5,873.9 595.0,873.9 596.5,873.9 598.0,873.9 599.5,873.9 601.0,873.9 602.5,873.9 604.0,873.9 605.5,873.9 607.0,873.8 608.5,873.8 610.0,873.8 611.5,873.7 613.0,873.7 614.5,873.7 616.0,873.6 617.5,873.6 619.0,873.5 620.5,873.5 622.0,873.4 623.5,873.4 625.0,873.4 626.5,873.3 628.0,873.3 629.5,873.2 631.0,873.2 632.5,873.1 634.0,873.1 635.5,873.1 637.0,873.0 638.5,873.0 640.0,872.9 641.5,872.8 643.0,872.8 644.5,872.7 646.0,872.6 647.5,872.5 649.0,872.4 650.5,872.3 652.0,872.1 653.5,872.0 655.0,871.8 656.5,871.7 658.0,871.5 659.4,871.2 660.9,871.0 662.4,870.7 663.9,870.4 665.3,870.1 666.8,869.9 668.3,869.6 669.8,869.3 671.2,868.9 672.7,868.6 674.1,868.2 675.6,867.7 677.0,867.2 678.3,866.6 679.7,866.0 680.9,865.2 682.1,864.3 683.3,863.3 684.3,862.3 685.2,861.1 686.1,859.9 686.8,858.6 687.5,857.2 688.1,855.9 688.6,854.5 689.1,853.1 689.6,851.6 690.1,850.2 690.5,848.8 690.9,847.3 691.4,845.9 691.8,844.5 692.2,843.0 692.7,841.6 693.2,840.2 693.7,838.8 694.2,837.3 694.7,835.9 695.2,834.5 695.7,833.1 696.2,831.7 696.7,830.3 697.2,828.9 697.7,827.4 698.2,826.0 698.7,824.6 699.2,823.2 699.7,821.8 700.1,820.3 700.6,818.9 701.1,817.5 701.6,816.1 702.1,814.7 702.6,813.3 703.2,811.9 703.7,810.5 704.3,809.1 704.8,807.7 705.3,806.3 705.9,804.9 706.4,803.5 707.0,802.1 707.5,800.7 708.1,799.3 708.7,797.9 709.3,796.5 709.9,795.2 710.6,793.8 711.3,792.5 712.1,791.3 713.0,790.1 714.0,788.9 715.0,787.8 716.1,786.9 717.3,786.2 718.6,785.9 719.9,786.1 721.1,786.8 722.1,787.8 723.0,788.9 723.7,790.2 724.2,791.6 724.6,793.0 724.9,794.5 725.0,796.0 725.1,797.5 725.1,799.0 725.1,800.5 725.1,802.0 725.1,803.5 725.1,805.0 725.1,806.5 725.1,808.0 725.1,809.5 725.2,811.0 725.2,812.5 725.2,814.0 725.3,815.5 725.3,817.0 725.3,818.5 725.3,820.0 725.4,821.5 725.4,823.0 725.4,824.5 725.4,826.0 725.5,827.5 725.5,829.0 725.5,830.5 725.5,832.0 725.5,833.5 725.6,835.0 725.6,836.5 725.6,838.0 725.6,839.5 725.6,841.0 725.6,842.5 725.6,844.0 725.6,845.5 725.6,847.0 725.6,848.5 725.6,850.0 725.6,851.5 725.6,853.0 725.6,854.5 725.6,856.0 725.6,857.5 725.6,859.0 725.6,860.5 725.6,862.0 725.6,863.5 725.5,865.0 725.5,866.5 725.5,868.0 725.5,869.5 725.4,871.0 725.4,872.5 725.3,874.0 725.3,875.5 725.2,877.0 725.2,878.5 725.1,880.0 725.0,881.5 724.9,883.0 724.8,884.5 724.7,886.0 724.6,887.5 724.4,889.0 724.3,890.5 724.1,892.0 724.0,893.5 723.8,895.0 723.6,896.5 723.4,897.9 723.2,899.4 723.0,900.9 722.8,902.4 722.6,903.9 722.4,905.4 722.2,906.9 722.0,908.3 721.8,909.8 721.5,911.3 721.2,912.8 721.0,914.3 720.7,915.7 720.5,917.2 720.2,918.7 720.0,920.2 719.8,921.7 719.6,923.2 719.4,924.7 719.3,926.1 719.1,927.6 719.0,929.1 718.9,930.6 718.7,932.1 718.6,933.6 718.5,935.1 718.3,936.6 718.2,938.1 718.0,939.6 717.8,941.1 717.6,942.6 717.4,944.0 717.2,945.5 716.9,947.0 716.6,948.5 716.3,949.9 715.9,951.4 715.4,952.8 715.0,954.2 714.5,955.7 714.0,957.1 713.4,958.5 712.8,959.8 712.2,961.2 711.5,962.5 710.8,963.9 710.1,965.2 709.3,966.5 708.5,967.7 707.7,969.0 706.8,970.2 705.9,971.4 704.9,972.5 703.9,973.7 702.9,974.8 701.9,975.8 700.8,976.9 699.7,977.9 698.5,978.9 697.4,979.8 696.2,980.8 695.0,981.7 693.8,982.6 692.6,983.5 691.4,984.3 690.1,985.1 688.9,985.9 687.6,986.7 686.2,987.4 684.9,988.1 683.5,988.7 682.2,989.3 680.8,989.9 679.4,990.5 678.0,991.0 676.6,991.6 675.2,992.1 673.8,992.7 672.4,993.3 671.1,993.9 669.7,994.5 668.3,995.1 667.0,995.8 665.7,996.5 664.3,997.2 663.0,997.9 661.7,998.7 660.4,999.4 659.1,1000.2 657.9,1001.0 656.6,1001.7 655.3,1002.5 654.0,1003.3 652.7,1004.1 651.5,1004.9 650.2,1005.7 648.9,1006.4 647.6,1007.2 646.3,1008.0 645.0,1008.7 643.7,1009.4 642.4,1010.1 641.1,1010.9 639.7,1011.6 638.4,1012.3 637.2,1013.1 635.9,1013.9 634.6,1014.6 633.3,1015.4 632.0,1016.1 630.6,1016.7 629.2,1017.3 627.8,1017.8 626.4,1018.1 624.9,1018.3 623.4,1018.3 622.0,1018.1 620.5,1017.7 619.2,1017.1 617.9,1016.4 616.6,1015.6 615.4,1014.7 614.2,1013.8 613.0,1012.9 611.8,1012.0 610.6,1011.1 609.3,1010.3 608.1,1009.4 606.8,1008.7 605.5,1008.0 604.1,1007.3 602.7,1006.8 601.3,1006.3 599.9,1006.0 598.4,1005.6 596.9,1005.4 595.4,1005.1 594.0,1004.9 592.5,1004.7 591.0,1004.6 589.5,1004.4 588.0,1004.3 586.5,1004.2 585.0,1004.1 583.5,1004.0 582.0,1003.9 580.5,1003.8 579.0,1003.7 577.5,1003.5 576.0,1003.4 574.5,1003.2 573.0,1003.0 571.6,1002.8 570.1,1002.6 568.6,1002.3 567.1,1002.1 565.6,1001.8 564.2,1001.5 562.7,1001.2 561.2,1000.9 559.8,1000.6 558.3,1000.3 556.8,1000.0 555.4,999.6 553.9,999.3 552.4,999.0 551.0,998.7 549.5,998.4 548.0,998.1 546.5,997.9 545.1,997.6 543.6,997.3 542.1,997.1 540.6,996.9 539.1,996.7 537.6,996.5 536.1,996.4 534.6,996.3 533.2,996.2 531.7,996.1 530.2,996.1 528.7,996.2 527.2,996.3 525.7,996.4 524.2,996.6 522.7,996.8 521.2,997.1 519.7,997.3 518.3,997.6 516.8,997.9 515.3,998.3 513.9,998.6 512.4,998.9 510.9,999.2 509.5,999.6 508.0,999.9 506.5,1000.1 505.0,1000.4 503.6,1000.6 502.1,1000.8 500.6,1000.9 499.1,1001.0 497.6,1001.1 496.1,1001.1 494.6,1001.1 493.1,1001.0 491.6,1001.0 490.1,1000.9 488.6,1000.8 487.1,1000.6 485.6,1000.5 484.1,1000.4 482.6,1000.2 481.1,1000.0 479.6,999.8 478.2,999.7 476.7,999.5 475.2,999.3 473.7,999.0 472.2,998.8 470.7,998.6 469.3,998.3 467.8,998.0 466.3,997.8 464.8,997.5 463.3,997.2 461.9,996.9 460.4,996.7 458.9,996.4 457.5,996.1 456.0,995.8 454.5,995.5 453.0,995.2 451.6,995.0 450.1,994.7 448.6,994.4 447.1,994.1 445.7,993.8 444.2,993.5 442.7,993.3 441.2,993.0 439.8,992.7 438.3,992.4 436.8,992.1 435.4,991.8 433.9,991.5 432.4,991.2 431.0,990.9 429.5,990.5 428.0,990.2 426.5,989.9 425.1,989.6 423.6,989.3 422.2,989.0 420.7,988.6 419.2,988.3 417.8,988.0 416.3,987.6 414.8,987.3 413.4,986.9 411.9,986.6 410.5,986.2 409.0,985.9 407.5,985.6 406.1,985.3 404.6,984.9 403.1,984.6 401.7,984.3 400.2,984.0 398.7,983.8 397.2,983.5 395.8,983.2 394.3,982.9 392.8,982.6 391.3,982.4 389.9,982.1 388.4,981.8 386.9,981.5 385.4,981.3 384.0,981.0 382.5,980.8 381.0,980.5 379.5,980.3 378.0,980.1 376.6,979.8 375.1,979.6 373.6,979.4 372.1,979.2 370.6,979.0 369.1,978.8 367.6,978.6 366.1,978.4 364.7,978.3 363.2,978.1 361.7,978.0 360.2,977.8 358.7,977.7 357.2,977.5 355.7,977.4 354.2,977.3 352.7,977.2 351.2,977.1 349.7,977.0 348.2,976.9 346.7,976.8 345.2,976.7 343.7,976.6 342.2,976.5 340.7,976.4 339.2,976.3 337.7,976.2 336.2,976.1 334.7,976.0 333.2,976.0 331.7,975.9 330.2,975.8 328.7,975.7 327.2,975.7 325.7,975.6 324.2,975.5 322.7,975.5 321.2,975.4 319.7,975.3 318.2,975.3 316.7,975.2 315.2,975.2 313.7,975.1 312.2,975.1 310.7,975.1 309.2,975.0 307.7,975.0 306.2,975.0 304.7,975.0 303.2,975.0 301.7,975.0 300.2,975.0 298.7,975.0 297.2,975.0 295.7,975.1 294.2,975.1 292.7,975.1 291.2,975.2 289.7,975.2 288.2,975.3 286.7,975.3 285.2,975.4 283.7,975.4 282.2,975.5 280.7,975.5 279.2,975.6 277.7,975.6 276.2,975.7 274.7,975.8 273.2,975.8 271.7,975.9 270.2,975.9 268.7,976.0 267.2,976.1 265.7,976.1 264.2,976.2 262.7,976.2 261.2,976.3 259.7,976.4 258.2,976.4 256.7,976.5 255.2,976.5 253.7,976.6 252.2,976.6 250.7,976.7 249.2,976.7 247.7,976.8 246.2,976.8 244.7,976.9 243.2,976.9 241.7,977.0 240.2,977.0 238.7,977.0 237.2,977.0 235.7,977.1 234.2,977.1 232.7,977.1 231.2,977.1 229.7,977.1 228.2,977.1 226.7,977.1 225.2,977.1 223.7,977.1 222.2,977.1 220.7,977.1 219.2,977.1 217.7,977.1 216.2,977.1 214.7,977.1 213.2,977.1 211.7,977.1 210.2,977.1 208.7,977.1 207.2,977.1 205.7,977.1 204.2,977.1 202.7,977.1 201.2,977.1 199.7,977.1 198.2,977.1 196.7,977.1 195.2,977.1 193.7,977.1 192.2,977.1 190.7,977.2 189.2,977.2 187.7,977.2 186.2,977.3 184.7,977.3 183.2,977.4 181.7,977.4 180.2,977.5 178.7,977.6 177.2,977.7 175.7,977.8 174.2,977.9 172.7,978.0 171.2,978.1 169.8,978.2 168.3,978.4 166.8,978.5 165.3,978.6 163.8,978.8 162.3,979.0 160.8,979.1 159.3,979.3 157.8,979.5 156.3,979.6 154.8,979.8 153.3,980.0 151.9,980.2 150.4,980.4 148.9,980.5 147.4,980.7 145.9,980.9 144.4,981.0 142.9,981.2 141.4,981.4 139.9,981.6 138.5,981.9 137.0,982.3 135.7,982.7 134.5,982.9 134.0,982.8Z" stroke="#b444f0" stroke-width="3.6" fill="none" stroke-linecap="round" stroke-linejoin="round"/>
<path d="M134.0,993.1 133.4,991.8 133.0,990.4 132.7,988.9 132.5,987.4 132.4,986.0 132.3,984.5 132.2,983.0 132.2,981.5 132.2,980.0 132.2,978.5 132.2,977.0 132.2,975.5 132.2,974.0 132.3,972.5 132.4,971.0 132.5,969.5 132.7,968.0 132.9,966.5 133.2,965.0 133.5,963.6 133.9,962.1 134.4,960.7 134.9,959.3 135.5,957.9 136.1,956.6 136.8,955.2 137.5,953.9 138.3,952.6 139.1,951.4 140.0,950.1 140.8,948.9 141.7,947.7 142.7,946.6 143.7,945.5 144.8,944.4 145.8,943.4 147.0,942.3 148.1,941.4 149.2,940.4 150.4,939.4 151.6,938.5 152.7,937.6 154.0,936.7 155.2,935.8 156.4,935.0 157.7,934.2 159.0,933.5 160.4,932.9 161.7,932.3 163.1,931.7 164.6,931.2 166.0,930.8 167.4,930.4 168.9,930.0 170.4,929.7 171.8,929.4 173.3,929.1 174.8,928.9 176.3,928.7 177.7,928.4 179.2,928.2 180.7,928.0 182.2,927.8 183.7,927.6 185.2,927.4 186.7,927.2 188.1,927.0 189.6,926.8 191.1,926.5 192.6,926.3 194.1,926.1 195.5,925.8 197.0,925.5 198.5,925.3 200.0,925.0 201.5,924.8 202.9,924.5 204.4,924.3 205.9,924.0 207.4,923.7 208.8,923.5 210.3,923.2 211.8,922.9 213.3,922.7 214.7,922.4 216.2,922.1 217.7,921.9 219.2,921.6 220.7,921.3 222.1,921.1 223.6,920.8 225.1,920.5 226.6,920.2 228.0,919.9 229.5,919.7 231.0,919.4 232.4,919.1 233.9,918.8 235.4,918.5 236.9,918.2 238.3,917.9 239.8,917.6 241.3,917.3 242.7,917.0 244.2,916.7 245.7,916.3 247.1,916.0 248.6,915.7 250.0,915.3 251.5,915.0 253.0,914.7 254.4,914.3 255.9,914.0 257.4,913.6 258.8,913.3 260.3,913.0 261.7,912.7 263.2,912.3 264.7,912.0 266.1,911.7 267.6,911.5 269.1,911.2 270.6,910.9 272.0,910.6 273.5,910.4 275.0,910.1 276.5,909.9 278.0,909.6 279.4,909.4 280.9,909.2 282.4,909.0 283.9,908.7 285.4,908.5 286.9,908.3 288.3,908.1 289.8,907.9 291.3,907.7 292.8,907.4 294.3,907.2 295.8,907.0 297.3,906.8 298.7,906.6 300.2,906.4 301.7,906.2 303.2,906.0 304.7,905.8 306.2,905.6 307.7,905.4 309.1,905.2 310.6,905.0 312.1,904.8 313.6,904.6 315.1,904.4 316.6,904.2 318.1,903.9 319.5,903.7 321.0,903.5 322.5,903.3 324.0,903.1 325.5,902.8 327.0,902.6 328.5,902.4 329.9,902.2 331.4,902.0 332.9,901.8 334.4,901.6 335.9,901.3 337.4,901.1 338.8,900.9 340.3,900.7 341.8,900.5 343.3,900.3 344.8,900.1 346.3,899.8 347.7,899.6 349.2,899.4 350.7,899.2 352.2,898.9 353.7,898.7 355.2,898.5 356.6,898.2 358.1,898.0 359.6,897.7 361.1,897.5 362.6,897.2 364.0,897.0 365.5,896.7 367.0,896.4 368.5,896.1 369.9,895.9 371.4,895.6 372.9,895.3 374.3,895.0 375.8,894.7 377.3,894.4 378.8,894.1 380.2,893.8 381.7,893.4 383.2,893.1 384.6,892.8 386.1,892.5 387.5,892.2 389.0,891.8 390.5,891.5 391.9,891.2 393.4,890.8 394.9,890.5 396.3,890.2 397.8,889.8 399.2,889.5 400.7,889.1 402.2,888.8 403.6,888.5 405.1,888.1 406.5,887.8 408.0,887.4 409.5,887.1 410.9,886.7 412.4,886.4 413.8,886.0 415.3,885.7 416.8,885.4 418.2,885.0 419.7,884.7 421.2,884.3 422.6,884.0 424.1,883.6 425.5,883.3 427.0,882.9 428.4,882.6 429.9,882.2 431.3,881.8 432.8,881.4 434.2,881.0 435.7,880.6 437.1,880.2 438.6,879.8 440.0,879.3 441.4,878.9 442.9,878.4 444.3,877.9 445.7,877.5 447.1,877.0 448.5,876.4 449.9,875.9 451.3,875.4 452.7,874.9 454.1,874.3 455.5,873.8 456.9,873.2 458.3,872.7 459.7,872.1 461.1,871.6 462.5,871.0 463.9,870.4 465.3,869.9 466.7,869.3 468.1,868.8 469.5,868.2 470.8,867.7 472.2,867.1 473.6,866.5 475.0,865.9 476.4,865.3 477.8,864.8 479.1,864.2 480.5,863.6 481.9,863.0 483.3,862.4 484.6,861.8 486.0,861.2 487.4,860.6 488.8,860.1 490.2,859.5 491.6,859.0 493.0,858.4 494.4,857.9 495.8,857.4 497.3,857.0 498.7,856.5 500.1,856.0 501.5,855.5 502.9,855.1 504.4,854.6 505.8,854.1 507.2,853.7 508.7,853.2 510.1,852.8 511.5,852.3 513.0,851.9 514.4,851.4 515.8,851.0 517.3,850.6 518.7,850.2 520.2,849.8 521.6,849.4 523.1,849.1 524.5,848.7 526.0,848.4 527.4,848.0 528.9,847.7 530.4,847.4 531.9,847.1 533.3,846.9 534.8,846.6 536.3,846.4 537.8,846.2 539.3,846.1 540.8,845.9 542.3,845.8 543.8,845.7 545.3,845.7 546.8,845.6 548.3,845.6 549.8,845.7 551.3,845.7 552.8,845.7 554.3,845.8 555.8,845.9 557.3,846.0 558.7,846.1 560.2,846.2 561.7,846.3 563.2,846.4 564.7,846.5 566.2,846.6 567.7,846.7 569.2,846.9 570.7,847.0 572.2,847.1 573.7,847.1 575.2,847.2 576.7,847.3 578.2,847.3 579.7,847.4 581.2,847.4 582.7,847.4 584.2,847.4 585.7,847.4 587.2,847.3 588.7,847.3 590.2,847.3 591.7,847.2 593.2,847.2 594.7,847.1 596.2,847.0 597.7,847.0 599.2,846.9 600.7,846.8 602.2,846.8 603.7,846.7 605.2,846.6 606.7,846.6 608.2,846.5 609.7,846.4 611.2,846.4 612.7,846.3 614.2,846.3 615.7,846.2 617.2,846.2 618.7,846.1 620.2,846.1 621.7,846.1 623.2,846.1 624.7,846.1 626.2,846.1 627.7,846.1 629.2,846.1 630.7,846.1 632.2,846.1 633.7,846.2 635.2,846.2 636.7,846.2 638.2,846.3 639.7,846.3 641.2,846.3 642.7,846.3 644.2,846.4 645.7,846.4 647.2,846.4 648.7,846.4 650.2,846.4 651.7,846.4 653.2,846.3 654.7,846.3 656.2,846.2 657.7,846.1 659.2,846.0 660.7,845.9 662.2,845.7 663.6,845.5 665.1,845.3 666.6,845.1 668.1,844.9 669.6,844.7 671.1,844.4 672.5,844.1 674.0,843.8 675.5,843.5 676.9,843.1 678.3,842.6 679.7,842.1 681.1,841.6 682.5,840.9 683.8,840.2 685.0,839.4 686.3,838.5 687.4,837.6 688.5,836.6 689.6,835.5 690.6,834.4 691.5,833.2 692.4,832.0 693.3,830.8 694.1,829.6 694.9,828.3 695.7,827.0 696.4,825.7 697.1,824.4 697.7,823.0 698.4,821.7 699.0,820.3 699.6,818.9 700.2,817.5 700.8,816.2 701.4,814.8 701.9,813.4 702.5,812.0 703.0,810.6 703.6,809.2 704.1,807.8 704.7,806.4 705.2,805.0 705.7,803.6 706.3,802.2 706.8,800.8 707.4,799.4 707.9,798.0 708.4,796.6 709.0,795.2 709.5,793.8 710.0,792.4 710.4,790.9 710.9,789.5 711.4,788.1 711.8,786.7 712.2,785.2 712.7,783.8 713.1,782.3 713.5,780.9 714.0,779.5 714.4,778.0 714.8,776.6 715.3,775.2 715.7,773.7 716.1,772.3 716.6,770.9 717.1,769.4 717.5,768.0 718.0,766.6 718.6,765.2 719.2,763.9 719.9,762.9 720.7,762.5 721.4,762.8 722.0,763.8 722.4,765.2 722.6,766.6 722.8,768.1 723.0,769.6 723.1,771.1 723.3,772.6 723.4,774.1 723.5,775.6 723.7,777.1 723.8,778.6 723.9,780.1 724.0,781.6 724.1,783.1 724.2,784.6 724.2,786.1 724.3,787.6 724.4,789.1 724.4,790.6 724.5,792.1 724.5,793.6 724.6,795.1 724.6,796.6 724.7,798.1 724.7,799.6 724.8,801.1 724.8,802.6 724.8,804.1 724.9,805.6 724.9,807.1 724.9,808.6 725.0,810.1 725.0,811.6 725.0,813.1 725.1,814.6 725.1,816.1 725.1,817.6 725.1,819.1 725.2,820.6 725.2,822.1 725.2,823.6 725.2,825.1 725.2,826.6 725.3,828.1 725.3,829.6 725.3,831.1 725.3,832.6 725.3,834.1 725.3,835.6 725.3,837.1 725.3,838.6 725.3,840.1 725.4,841.6 725.4,843.1 725.4,844.6 725.4,846.1 725.4,847.6 725.4,849.1 725.4,850.6 725.4,852.1 725.4,853.6 725.4,855.1 725.4,856.6 725.4,858.1 725.3,859.6 725.3,861.1 725.3,862.6 725.3,864.1 725.3,865.6 725.3,867.1 725.3,868.6 725.3,870.1 725.3,871.6 725.2,873.1 725.2,874.6 725.2,876.1 725.2,877.6 725.1,879.1 725.1,880.6 725.1,882.1 725.1,883.6 725.0,885.1 725.0,886.6 724.9,888.1 724.9,889.6 724.9,891.1 724.8,892.5 724.8,894.0 724.7,895.5 724.6,897.0 724.6,898.5 724.5,900.0 724.4,901.5 724.3,903.0 724.2,904.5 724.1,906.0 724.0,907.5 723.9,909.0 723.7,910.5 723.6,912.0 723.4,913.5 723.3,915.0 723.1,916.5 722.9,918.0 722.7,919.5 722.5,920.9 722.3,922.4 722.1,923.9 721.8,925.4 721.6,926.9 721.4,928.4 721.1,929.8 720.9,931.3 720.7,932.8 720.4,934.3 720.2,935.8 720.0,937.2 719.7,938.7 719.5,940.2 719.2,941.7 719.0,943.2 718.7,944.6 718.5,946.1 718.2,947.6 717.9,949.1 717.6,950.5 717.3,952.0 717.0,953.5 716.7,954.9 716.3,956.4 716.0,957.9 715.6,959.3 715.2,960.8 714.8,962.2 714.3,963.6 713.9,965.1 713.4,966.5 713.0,967.9 712.5,969.3 712.0,970.8 711.5,972.2 711.0,973.6 710.5,975.0 709.9,976.4 709.3,977.8 708.7,979.1 708.1,980.5 707.5,981.8 706.8,983.2 706.1,984.5 705.3,985.8 704.5,987.1 703.7,988.3 702.8,989.5 701.9,990.7 701.0,991.9 700.0,993.0 699.0,994.2 698.0,995.2 696.9,996.3 695.8,997.3 694.7,998.3 693.5,999.2 692.3,1000.2 691.1,1001.0 689.9,1001.9 688.6,1002.7 687.3,1003.4 686.0,1004.1 684.6,1004.8 683.3,1005.4 681.9,1006.0 680.5,1006.5 679.1,1007.0 677.7,1007.5 676.2,1008.0 674.8,1008.5 673.4,1009.0 672.0,1009.4 670.5,1009.9 669.1,1010.4 667.7,1010.8 666.3,1011.3 664.8,1011.8 663.4,1012.3 662.0,1012.8 660.6,1013.3 659.2,1013.9 657.8,1014.4 656.4,1015.0 655.0,1015.5 653.7,1016.1 652.3,1016.7 650.9,1017.3 649.5,1017.9 648.1,1018.4 646.7,1019.0 645.3,1019.6 644.0,1020.1 642.6,1020.7 641.1,1021.2 639.7,1021.7 638.3,1022.2 636.9,1022.7 635.5,1023.1 634.0,1023.5 632.6,1023.9 631.1,1024.2 629.6,1024.5 628.2,1024.7 626.7,1024.9 625.2,1025.0 623.7,1025.0 622.2,1025.0 620.7,1024.8 619.2,1024.6 617.7,1024.3 616.3,1024.0 614.8,1023.6 613.4,1023.2 612.0,1022.7 610.5,1022.3 609.1,1021.8 607.7,1021.3 606.3,1020.8 604.9,1020.3 603.5,1019.8 602.0,1019.4 600.6,1019.0 599.1,1018.6 597.7,1018.3 596.2,1018.0 594.7,1017.7 593.2,1017.4 591.8,1017.2 590.3,1017.0 588.8,1016.7 587.3,1016.5 585.8,1016.3 584.4,1016.0 582.9,1015.8 581.4,1015.6 579.9,1015.4 578.4,1015.2 576.9,1015.0 575.4,1014.8 573.9,1014.6 572.5,1014.5 571.0,1014.3 569.5,1014.1 568.0,1014.0 566.5,1013.8 565.0,1013.7 563.5,1013.6 562.0,1013.4 560.5,1013.3 559.0,1013.2 557.5,1013.0 556.0,1012.9 554.5,1012.8 553.0,1012.7 551.5,1012.6 550.0,1012.6 548.5,1012.5 547.0,1012.5 545.5,1012.5 544.0,1012.5 542.5,1012.6 541.0,1012.6 539.6,1012.8 538.1,1012.9 536.6,1013.1 535.1,1013.4 533.6,1013.6 532.2,1014.0 530.7,1014.3 529.2,1014.6 527.8,1015.0 526.3,1015.4 524.9,1015.7 523.4,1016.1 522.0,1016.5 520.5,1016.8 519.0,1017.1 517.6,1017.4 516.1,1017.7 514.6,1017.9 513.1,1018.2 511.6,1018.4 510.2,1018.6 508.7,1018.7 507.2,1018.9 505.7,1019.1 504.2,1019.2 502.7,1019.4 501.2,1019.5 499.7,1019.6 498.2,1019.7 496.7,1019.8 495.2,1019.9 493.7,1020.0 492.2,1020.0 490.7,1020.0 489.2,1020.0 487.7,1019.9 486.2,1019.7 484.8,1019.5 483.3,1019.3 481.8,1019.0 480.3,1018.7 478.9,1018.4 477.4,1018.2 475.9,1017.9 474.4,1017.6 473.0,1017.3 471.5,1017.1 470.0,1016.8 468.5,1016.5 467.1,1016.2 465.6,1015.9 464.1,1015.6 462.7,1015.3 461.2,1015.0 459.7,1014.6 458.3,1014.3 456.8,1014.0 455.3,1013.6 453.9,1013.3 452.4,1012.9 451.0,1012.5 449.5,1012.1 448.1,1011.7 446.6,1011.3 445.2,1010.9 443.8,1010.5 442.3,1010.1 440.9,1009.7 439.4,1009.2 438.0,1008.8 436.6,1008.4 435.1,1007.9 433.7,1007.5 432.3,1007.0 430.9,1006.5 429.4,1006.1 428.0,1005.6 426.6,1005.2 425.1,1004.7 423.7,1004.2 422.3,1003.7 420.9,1003.2 419.5,1002.7 418.1,1002.2 416.6,1001.7 415.2,1001.2 413.8,1000.7 412.4,1000.2 411.0,999.7 409.6,999.2 408.2,998.7 406.8,998.2 405.4,997.7 403.9,997.2 402.5,996.7 401.1,996.2 399.7,995.7 398.3,995.2 396.9,994.7 395.4,994.2 394.0,993.7 392.6,993.3 391.2,992.8 389.7,992.4 388.3,991.9 386.9,991.5 385.4,991.1 384.0,990.8 382.5,990.4 381.0,990.1 379.6,989.8 378.1,989.5 376.6,989.3 375.1,989.0 373.6,988.8 372.2,988.5 370.7,988.3 369.2,988.1 367.7,987.9 366.2,987.6 364.7,987.4 363.3,987.2 361.8,987.0 360.3,986.8 358.8,986.6 357.3,986.4 355.8,986.2 354.3,986.0 352.9,985.8 351.4,985.6 349.9,985.5 348.4,985.3 346.9,985.1 345.4,984.9 343.9,984.8 342.4,984.6 340.9,984.4 339.4,984.3 338.0,984.1 336.5,984.0 335.0,983.8 333.5,983.7 332.0,983.6 330.5,983.4 329.0,983.3 327.5,983.2 326.0,983.1 324.5,983.1 323.0,983.0 321.5,982.9 320.0,982.9 318.5,982.9 317.0,982.9 315.5,982.9 314.0,983.0 312.5,983.0 311.0,983.1 309.5,983.2 308.0,983.2 306.5,983.3 305.0,983.4 303.5,983.4 302.0,983.4 300.5,983.5 299.0,983.5 297.5,983.5 296.0,983.6 294.5,983.6 293.0,983.6 291.5,983.6 290.0,983.6 288.5,983.6 287.0,983.6 285.5,983.7 284.0,983.7 282.5,983.7 281.0,983.7 279.5,983.7 278.0,983.7 276.5,983.7 275.0,983.7 273.5,983.7 272.0,983.7 270.5,983.8 269.0,983.8 267.5,983.8 266.0,983.8 264.5,983.8 263.0,983.8 261.5,983.9 260.0,983.9 258.5,983.9 257.0,983.9 255.5,983.9 254.0,984.0 252.5,984.0 251.0,984.0 249.5,984.0 248.0,984.1 246.5,984.1 245.0,984.2 243.5,984.2 242.0,984.2 240.5,984.3 239.0,984.3 237.5,984.4 236.0,984.4 234.5,984.5 233.0,984.5 231.5,984.6 230.0,984.7 228.5,984.7 227.0,984.8 225.5,984.8 224.0,984.9 222.5,984.9 221.0,985.0 219.5,985.1 218.0,985.1 216.5,985.2 215.0,985.3 213.5,985.3 212.0,985.4 210.5,985.5 209.0,985.6 207.5,985.6 206.0,985.7 204.5,985.8 203.0,985.9 201.5,986.0 200.1,986.0 198.6,986.1 197.1,986.2 195.6,986.3 194.1,986.4 192.6,986.5 191.1,986.6 189.6,986.7 188.1,986.8 186.6,986.9 185.1,987.1 183.6,987.2 182.1,987.3 180.6,987.4 179.1,987.6 177.6,987.7 176.1,987.9 174.6,988.0 173.1,988.2 171.6,988.3 170.2,988.5 168.7,988.7 167.2,988.9 165.7,989.1 164.2,989.2 162.7,989.5 161.2,989.7 159.7,989.9 158.3,990.1 156.8,990.4 155.3,990.6 153.8,990.9 152.4,991.2 150.9,991.5 149.5,991.9 148.0,992.3 146.6,992.8 145.2,993.3 143.8,993.8 142.3,994.3 140.9,994.7 139.5,995.1 138.0,995.2 136.6,995.1 135.4,994.6 134.4,993.7 134.0,993.1Z" stroke="#e4101c" stroke-width="3.6" fill="none" stroke-linecap="round" stroke-linejoin="round"/>
<path d="M135.0,979.6 134.3,978.8 133.9,977.6 133.7,976.1 133.6,974.6 133.6,973.1 133.6,971.6 133.6,970.1 133.7,968.6 133.8,967.1 133.9,965.6 134.0,964.2 134.2,962.7 134.5,961.2 134.8,959.7 135.2,958.3 135.7,956.9 136.3,955.5 137.0,954.2 137.7,952.9 138.6,951.7 139.6,950.6 140.7,949.7 142.0,948.9 143.3,948.2 144.7,947.6 146.1,947.0 147.4,946.4 148.8,945.8 150.2,945.2 151.5,944.5 152.9,943.9 154.2,943.2 155.6,942.6 156.9,941.9 158.3,941.3 159.7,940.7 161.0,940.1 162.4,939.5 163.8,939.0 165.2,938.5 166.7,938.0 168.1,937.6 169.6,937.2 171.0,936.9 172.5,936.6 174.0,936.3 175.4,936.0 176.9,935.8 178.4,935.5 179.9,935.3 181.4,935.1 182.9,934.9 184.3,934.7 185.8,934.5 187.3,934.3 188.8,934.1 190.3,933.8 191.8,933.6 193.2,933.3 194.7,933.0 196.2,932.8 197.7,932.5 199.1,932.2 200.6,931.9 202.1,931.5 203.5,931.2 205.0,930.9 206.5,930.6 207.9,930.3 209.4,929.9 210.9,929.6 212.3,929.3 213.8,929.0 215.2,928.6 216.7,928.3 218.2,928.0 219.6,927.6 221.1,927.3 222.6,927.0 224.0,926.6 225.5,926.3 227.0,926.0 228.4,925.6 229.9,925.3 231.3,925.0 232.8,924.7 234.3,924.3 235.7,924.0 237.2,923.7 238.7,923.4 240.1,923.0 241.6,922.7 243.1,922.4 244.5,922.1 246.0,921.8 247.5,921.5 248.9,921.2 250.4,920.9 251.9,920.6 253.4,920.3 254.8,920.0 256.3,919.7 257.8,919.3 259.2,919.0 260.7,918.7 262.2,918.4 263.6,918.0 265.1,917.7 266.5,917.3 268.0,917.0 269.4,916.6 270.9,916.3 272.4,915.9 273.8,915.5 275.3,915.1 276.7,914.8 278.2,914.4 279.6,914.0 281.1,913.6 282.5,913.2 284.0,912.8 285.4,912.4 286.9,912.0 288.3,911.6 289.8,911.2 291.2,910.8 292.6,910.4 294.1,910.0 295.5,909.6 297.0,909.2 298.4,908.8 299.9,908.4 301.3,908.0 302.7,907.5 304.2,907.1 305.6,906.7 307.1,906.3 308.5,905.8 309.9,905.4 311.4,905.0 312.8,904.6 314.2,904.1 315.7,903.7 317.1,903.3 318.6,902.8 320.0,902.4 321.4,901.9 322.9,901.5 324.3,901.0 325.7,900.6 327.2,900.2 328.6,899.7 330.0,899.3 331.5,898.8 332.9,898.4 334.3,897.9 335.8,897.5 337.2,897.0 338.6,896.6 340.0,896.1 341.5,895.7 342.9,895.2 344.3,894.8 345.8,894.3 347.2,893.9 348.6,893.4 350.1,892.9 351.5,892.5 352.9,892.0 354.3,891.5 355.8,891.1 357.2,890.6 358.6,890.1 360.0,889.6 361.4,889.2 362.9,888.7 364.3,888.2 365.7,887.7 367.1,887.2 368.5,886.7 369.9,886.2 371.3,885.6 372.7,885.1 374.2,884.6 375.6,884.1 377.0,883.5 378.3,883.0 379.7,882.4 381.1,881.8 382.5,881.2 383.9,880.7 385.3,880.1 386.6,879.5 388.0,878.8 389.4,878.2 390.7,877.6 392.1,877.0 393.4,876.3 394.8,875.7 396.1,875.0 397.5,874.3 398.8,873.6 400.2,873.0 401.5,872.3 402.8,871.6 404.1,870.9 405.5,870.2 406.8,869.5 408.1,868.7 409.4,868.0 410.7,867.3 412.1,866.6 413.4,865.8 414.7,865.1 416.0,864.4 417.3,863.6 418.6,862.8 419.8,862.0 421.1,861.2 422.4,860.4 423.6,859.6 424.9,858.8 426.1,857.9 427.4,857.1 428.6,856.2 429.8,855.3 431.0,854.5 432.2,853.6 433.4,852.7 434.6,851.7 435.8,850.8 436.9,849.9 438.1,848.9 439.3,848.0 440.5,847.1 441.6,846.1 442.8,845.2 443.9,844.2 445.1,843.2 446.2,842.3 447.4,841.3 448.5,840.3 449.6,839.3 450.8,838.4 451.9,837.4 453.0,836.4 454.1,835.4 455.3,834.4 456.4,833.3 457.5,832.3 458.6,831.3 459.6,830.3 460.7,829.2 461.8,828.2 462.9,827.2 464.0,826.1 465.1,825.1 466.1,824.0 467.2,823.0 468.3,822.0 469.4,820.9 470.5,819.9 471.6,818.9 472.7,817.9 473.8,816.9 474.9,815.9 476.1,814.9 477.2,813.9 478.3,812.9 479.5,811.9 480.6,811.0 481.8,810.0 482.9,809.0 484.1,808.1 485.2,807.1 486.4,806.2 487.6,805.2 488.7,804.3 489.9,803.3 491.0,802.4 492.2,801.4 493.4,800.5 494.5,799.5 495.7,798.6 496.8,797.6 498.0,796.6 499.1,795.7 500.2,794.7 501.4,793.7 502.5,792.8 503.7,791.8 504.9,790.9 506.1,790.0 507.4,789.2 508.6,788.4 509.9,787.6 511.3,786.9 512.6,786.3 514.0,785.6 515.3,785.0 516.7,784.5 518.1,783.9 519.5,783.5 521.0,783.0 522.4,782.6 523.9,782.3 525.4,782.0 526.8,781.9 528.3,781.8 529.8,781.9 531.3,782.1 532.8,782.3 534.2,782.7 535.6,783.2 537.0,783.7 538.4,784.3 539.8,785.0 541.1,785.6 542.5,786.3 543.8,787.0 545.1,787.6 546.5,788.3 547.8,789.1 549.1,789.8 550.4,790.5 551.7,791.3 553.0,792.0 554.3,792.7 555.6,793.5 556.9,794.2 558.2,795.0 559.5,795.7 560.8,796.5 562.1,797.2 563.4,798.0 564.7,798.7 566.0,799.5 567.3,800.3 568.5,801.1 569.8,801.9 571.1,802.7 572.3,803.5 573.6,804.3 574.9,805.0 576.2,805.7 577.6,806.4 578.9,807.1 580.3,807.7 581.7,808.2 583.1,808.7 584.5,809.2 586.0,809.6 587.4,810.1 588.9,810.4 590.3,810.8 591.8,811.1 593.3,811.4 594.7,811.7 596.2,812.0 597.7,812.3 599.2,812.5 600.6,812.7 602.1,812.9 603.6,813.1 605.1,813.2 606.6,813.4 608.1,813.5 609.6,813.6 611.1,813.7 612.6,813.7 614.1,813.8 615.6,813.8 617.1,813.9 618.6,813.9 620.1,813.9 621.6,813.9 623.1,813.9 624.6,813.9 626.1,813.9 627.6,813.8 629.1,813.7 630.6,813.6 632.1,813.5 633.6,813.4 635.1,813.2 636.6,813.1 638.1,812.9 639.6,812.8 641.0,812.6 642.5,812.5 644.0,812.4 645.5,812.3 647.0,812.2 648.5,812.1 650.0,812.1 651.5,811.9 653.0,811.8 654.5,811.7 656.0,811.5 657.5,811.3 659.0,811.0 660.4,810.8 661.9,810.4 663.4,810.0 664.8,809.7 666.2,809.2 667.7,808.8 669.1,808.4 670.5,807.9 671.9,807.4 673.3,806.8 674.7,806.2 676.1,805.6 677.4,804.9 678.7,804.2 680.0,803.4 681.2,802.6 682.4,801.6 683.5,800.7 684.6,799.6 685.7,798.5 686.6,797.4 687.6,796.2 688.4,795.0 689.3,793.8 690.1,792.5 690.9,791.2 691.6,789.9 692.3,788.6 693.0,787.3 693.6,785.9 694.3,784.6 694.9,783.2 695.5,781.8 696.1,780.4 696.7,779.1 697.3,777.7 697.8,776.3 698.4,774.9 698.9,773.5 699.4,772.1 699.9,770.7 700.3,769.2 700.8,767.8 701.2,766.3 701.6,764.9 702.0,763.5 702.4,762.0 702.7,760.5 703.1,759.1 703.4,757.6 703.8,756.2 704.1,754.7 704.4,753.2 704.8,751.8 705.1,750.3 705.4,748.8 705.7,747.4 706.0,745.9 706.3,744.4 706.6,743.0 707.0,741.5 707.3,740.0 707.6,738.6 707.9,737.1 708.2,735.6 708.5,734.2 708.9,732.7 709.2,731.2 709.5,729.8 709.9,728.3 710.3,726.9 710.6,725.4 711.0,724.0 711.3,722.5 711.7,721.0 712.0,719.6 712.4,718.1 712.7,716.7 713.0,715.2 713.3,713.7 713.7,712.3 714.0,710.8 714.3,709.3 714.6,707.9 715.0,706.4 715.3,704.9 715.6,703.5 716.0,702.0 716.3,700.6 716.7,699.1 717.1,697.7 717.5,696.2 718.0,694.8 718.6,693.6 719.4,692.8 720.2,692.7 720.9,693.4 721.5,694.5 722.0,695.9 722.3,697.4 722.6,698.8 722.9,700.3 723.2,701.8 723.4,703.3 723.7,704.8 723.9,706.2 724.1,707.7 724.2,709.2 724.4,710.7 724.5,712.2 724.7,713.7 724.8,715.2 724.9,716.7 725.0,718.2 725.0,719.7 725.1,721.2 725.2,722.7 725.2,724.2 725.3,725.7 725.3,727.2 725.3,728.7 725.4,730.2 725.4,731.7 725.4,733.2 725.4,734.7 725.4,736.2 725.5,737.7 725.5,739.2 725.5,740.7 725.5,742.2 725.5,743.7 725.5,745.2 725.5,746.7 725.5,748.2 725.5,749.7 725.5,751.2 725.5,752.7 725.5,754.2 725.5,755.7 725.5,757.2 725.5,758.7 725.5,760.2 725.5,761.7 725.5,763.2 725.5,764.7 725.5,766.2 725.5,767.7 725.5,769.2 725.5,770.7 725.5,772.2 725.5,773.7 725.5,775.2 725.5,776.7 725.5,778.2 725.5,779.7 725.5,781.2 725.5,782.7 725.5,784.2 725.5,785.7 725.6,787.2 725.6,788.7 725.6,790.2 725.6,791.7 725.6,793.2 725.6,794.7 725.6,796.2 725.6,797.7 725.6,799.2 725.6,800.7 725.6,802.2 725.7,803.7 725.7,805.2 725.7,806.7 725.7,808.2 725.7,809.7 725.7,811.2 725.7,812.7 725.7,814.2 725.7,815.7 725.7,817.2 725.7,818.7 725.7,820.2 725.7,821.7 725.7,823.2 725.7,824.7 725.7,826.2 725.7,827.7 725.7,829.2 725.7,830.7 725.7,832.2 725.7,833.7 725.7,835.2 725.7,836.7 725.7,838.2 725.7,839.7 725.7,841.2 725.7,842.7 725.7,844.2 725.7,845.7 725.7,847.2 725.7,848.7 725.7,850.2 725.7,851.7 725.7,853.2 725.7,854.7 725.7,856.2 725.7,857.7 725.7,859.2 725.6,860.7 725.6,862.2 725.6,863.7 725.6,865.2 725.6,866.7 725.6,868.2 725.6,869.7 725.6,871.2 725.5,872.7 725.5,874.2 725.5,875.7 725.5,877.2 725.5,878.7 725.5,880.2 725.4,881.7 725.4,883.2 725.4,884.7 725.4,886.2 725.4,887.7 725.3,889.2 725.3,890.7 725.3,892.2 725.2,893.7 725.2,895.2 725.2,896.7 725.1,898.2 725.1,899.7 725.1,901.2 725.0,902.7 725.0,904.2 724.9,905.7 724.9,907.2 724.8,908.7 724.8,910.2 724.7,911.7 724.6,913.2 724.6,914.7 724.5,916.2 724.4,917.7 724.3,919.2 724.2,920.7 724.1,922.2 724.1,923.7 724.0,925.2 723.9,926.7 723.8,928.2 723.7,929.7 723.6,931.2 723.5,932.7 723.4,934.2 723.3,935.7 723.3,937.2 723.2,938.7 723.1,940.2 723.0,941.7 722.9,943.2 722.8,944.7 722.8,946.2 722.7,947.7 722.6,949.2 722.5,950.7 722.5,952.2 722.4,953.7 722.3,955.2 722.3,956.7 722.2,958.2 722.1,959.7 722.1,961.2 722.0,962.7 721.9,964.2 721.9,965.7 721.8,967.2 721.7,968.7 721.6,970.2 721.6,971.7 721.5,973.2 721.4,974.7 721.4,976.2 721.3,977.7 721.2,979.2 721.1,980.7 721.1,982.1 721.0,983.6 720.9,985.1 720.8,986.6 720.7,988.1 720.7,989.6 720.6,991.1 720.5,992.6 720.4,994.1 720.3,995.6 720.2,997.1 720.1,998.6 720.0,1000.1 719.9,1001.6 719.8,1003.1 719.7,1004.6 719.6,1006.1 719.4,1007.6 719.3,1009.1 719.2,1010.6 719.0,1012.1 718.9,1013.6 718.8,1015.1 718.6,1016.6 718.5,1018.1 718.3,1019.6 718.2,1021.0 718.0,1022.5 717.9,1024.0 717.7,1025.5 717.6,1027.0 717.4,1028.5 717.2,1030.0 717.1,1031.5 716.9,1033.0 716.7,1034.5 716.5,1036.0 716.3,1037.4 716.0,1038.9 715.8,1040.4 715.5,1041.9 715.2,1043.4 714.9,1044.8 714.6,1046.3 714.2,1047.7 713.8,1049.2 713.4,1050.6 713.0,1052.1 712.6,1053.5 712.1,1054.9 711.6,1056.4 711.2,1057.8 710.7,1059.2 710.1,1060.6 709.6,1062.0 709.0,1063.4 708.3,1064.7 707.6,1066.0 706.9,1067.3 706.0,1068.6 705.1,1069.7 704.1,1070.8 703.0,1071.8 701.7,1072.6 700.4,1073.3 699.1,1073.9 697.6,1074.4 696.2,1074.7 694.7,1074.9 693.2,1075.0 691.7,1075.1 690.2,1075.0 688.7,1074.8 687.3,1074.6 685.8,1074.3 684.3,1073.9 682.9,1073.6 681.4,1073.2 680.0,1072.8 678.5,1072.4 677.1,1072.0 675.6,1071.6 674.2,1071.2 672.7,1070.8 671.3,1070.4 669.8,1070.0 668.4,1069.6 667.0,1069.2 665.5,1068.8 664.1,1068.3 662.7,1067.9 661.2,1067.4 659.8,1067.0 658.4,1066.5 656.9,1066.1 655.5,1065.7 654.1,1065.2 652.6,1064.9 651.2,1064.5 649.7,1064.1 648.2,1063.7 646.8,1063.4 645.3,1063.0 643.9,1062.7 642.4,1062.3 640.9,1062.0 639.5,1061.7 638.0,1061.4 636.6,1061.0 635.1,1060.7 633.6,1060.4 632.2,1060.1 630.7,1059.7 629.2,1059.4 627.8,1059.0 626.3,1058.7 624.9,1058.4 623.4,1058.0 621.9,1057.7 620.5,1057.3 619.0,1056.9 617.6,1056.6 616.1,1056.2 614.6,1055.9 613.2,1055.5 611.7,1055.1 610.3,1054.8 608.8,1054.4 607.4,1054.1 605.9,1053.7 604.5,1053.3 603.0,1053.0 601.5,1052.6 600.1,1052.2 598.6,1051.8 597.2,1051.4 595.8,1051.0 594.3,1050.6 592.9,1050.3 591.4,1049.9 589.9,1049.6 588.5,1049.3 587.0,1049.0 585.5,1048.7 584.0,1048.4 582.6,1048.1 581.1,1047.9 579.6,1047.7 578.1,1047.6 576.6,1047.5 575.1,1047.5 573.6,1047.6 572.1,1047.7 570.7,1048.0 569.2,1048.3 567.8,1048.7 566.3,1049.2 564.9,1049.6 563.5,1050.2 562.1,1050.7 560.7,1051.3 559.3,1051.9 557.9,1052.4 556.6,1053.0 555.2,1053.6 553.8,1054.3 552.5,1054.9 551.1,1055.6 549.8,1056.2 548.5,1056.9 547.1,1057.6 545.8,1058.3 544.5,1059.0 543.2,1059.8 541.8,1060.5 540.5,1061.2 539.2,1061.9 537.9,1062.7 536.6,1063.4 535.3,1064.1 534.0,1064.9 532.7,1065.7 531.5,1066.5 530.2,1067.3 528.9,1068.1 527.7,1068.9 526.4,1069.7 525.1,1070.4 523.8,1071.1 522.4,1071.8 521.0,1072.3 519.6,1072.8 518.2,1073.3 516.7,1073.7 515.3,1074.0 513.8,1074.3 512.3,1074.5 510.8,1074.7 509.3,1074.8 507.8,1074.9 506.4,1074.9 504.9,1074.8 503.4,1074.6 501.9,1074.4 500.4,1074.2 498.9,1073.8 497.5,1073.5 496.0,1073.1 494.6,1072.7 493.2,1072.2 491.8,1071.7 490.4,1071.2 489.0,1070.6 487.6,1069.9 486.3,1069.3 485.0,1068.5 483.7,1067.7 482.5,1066.8 481.3,1065.9 480.1,1065.1 478.9,1064.2 477.7,1063.2 476.5,1062.3 475.3,1061.4 474.2,1060.5 473.0,1059.5 471.9,1058.5 470.7,1057.6 469.6,1056.6 468.4,1055.6 467.3,1054.7 466.1,1053.7 465.0,1052.7 463.9,1051.7 462.7,1050.7 461.6,1049.7 460.5,1048.7 459.4,1047.8 458.2,1046.8 457.1,1045.8 456.0,1044.8 454.9,1043.8 453.7,1042.8 452.6,1041.8 451.5,1040.8 450.4,1039.8 449.2,1038.8 448.1,1037.8 447.0,1036.8 445.9,1035.8 444.8,1034.7 443.8,1033.7 442.7,1032.7 441.6,1031.6 440.5,1030.6 439.4,1029.6 438.3,1028.6 437.2,1027.5 436.1,1026.5 435.0,1025.5 433.8,1024.5 432.7,1023.5 431.6,1022.5 430.4,1021.6 429.3,1020.6 428.1,1019.7 426.9,1018.7 425.8,1017.8 424.6,1016.9 423.4,1016.0 422.2,1015.1 420.9,1014.2 419.7,1013.4 418.5,1012.5 417.3,1011.6 416.0,1010.8 414.8,1009.9 413.6,1009.1 412.3,1008.3 411.0,1007.5 409.8,1006.7 408.5,1005.9 407.2,1005.1 405.9,1004.3 404.6,1003.6 403.3,1002.8 402.0,1002.1 400.7,1001.5 399.3,1000.8 397.9,1000.2 396.6,999.6 395.2,999.1 393.8,998.6 392.3,998.1 390.9,997.6 389.5,997.2 388.0,996.8 386.6,996.4 385.1,996.0 383.7,995.7 382.2,995.3 380.7,995.0 379.3,994.7 377.8,994.4 376.3,994.1 374.8,993.9 373.4,993.6 371.9,993.3 370.4,993.0 368.9,992.7 367.5,992.4 366.0,992.1 364.5,991.8 363.1,991.5 361.6,991.2 360.1,990.8 358.7,990.5 357.2,990.2 355.8,989.8 354.3,989.5 352.8,989.2 351.4,988.8 349.9,988.5 348.4,988.2 347.0,987.9 345.5,987.6 344.0,987.3 342.6,987.0 341.1,986.8 339.6,986.5 338.1,986.2 336.6,986.0 335.2,985.7 333.7,985.5 332.2,985.2 330.7,985.0 329.2,984.8 327.8,984.5 326.3,984.3 324.8,984.1 323.3,984.0 321.8,983.8 320.3,983.6 318.8,983.5 317.3,983.3 315.8,983.2 314.3,983.0 312.8,982.9 311.3,982.8 309.9,982.7 308.4,982.6 306.9,982.4 305.4,982.3 303.9,982.2 302.4,982.2 300.9,982.1 299.4,982.0 297.9,981.9 296.4,981.8 294.9,981.7 293.4,981.6 291.9,981.5 290.4,981.4 288.9,981.4 287.4,981.3 285.9,981.2 284.4,981.1 282.9,981.1 281.4,981.0 279.9,980.9 278.4,980.9 276.9,980.8 275.4,980.7 273.9,980.7 272.4,980.6 270.9,980.5 269.4,980.5 267.9,980.4 266.4,980.4 264.9,980.3 263.4,980.2 261.9,980.2 260.4,980.1 258.9,980.1 257.4,980.0 255.9,980.0 254.4,979.9 252.9,979.9 251.4,979.8 249.9,979.8 248.4,979.7 246.9,979.7 245.4,979.6 243.9,979.6 242.4,979.6 240.9,979.5 239.4,979.5 237.9,979.5 236.4,979.4 234.9,979.4 233.4,979.4 231.9,979.3 230.4,979.3 228.9,979.3 227.4,979.2 225.9,979.2 224.4,979.2 222.9,979.2 221.4,979.1 219.9,979.1 218.4,979.1 216.9,979.1 215.4,979.1 213.9,979.1 212.4,979.0 210.9,979.0 209.4,979.0 207.9,979.0 206.4,979.0 204.9,979.0 203.4,979.0 201.9,979.0 200.4,979.0 198.9,979.0 197.4,979.0 195.9,979.0 194.4,979.0 192.9,979.0 191.4,979.0 189.9,979.0 188.4,979.0 186.9,979.0 185.4,979.0 183.9,979.0 182.4,979.0 180.9,979.0 179.4,979.0 177.9,979.0 176.4,979.0 174.9,979.0 173.4,979.0 171.9,979.1 170.4,979.1 168.9,979.1 167.4,979.1 165.9,979.1 164.4,979.1 162.9,979.1 161.4,979.1 159.9,979.2 158.4,979.2 156.9,979.2 155.4,979.2 153.9,979.2 152.4,979.3 150.9,979.3 149.4,979.3 147.9,979.4 146.4,979.4 144.9,979.5 143.4,979.5 141.9,979.6 140.4,979.6 138.9,979.7 137.4,979.9 136.1,979.9 135.0,979.6Z" stroke="#0a0ad8" stroke-width="3.6" fill="none" stroke-linecap="round" stroke-linejoin="round"/>
<path d="M134.0,974.8 133.3,973.9 132.9,972.6 132.9,971.2 132.9,969.7 133.1,968.2 133.2,966.7 133.4,965.2 133.7,963.8 134.1,962.3 134.7,961.0 135.4,959.7 136.3,958.5 137.3,957.4 138.4,956.3 139.6,955.4 140.8,954.6 142.1,953.9 143.5,953.3 144.9,952.8 146.3,952.3 147.8,951.9 149.2,951.6 150.7,951.2 152.1,950.9 153.6,950.6 155.1,950.3 156.6,950.0 158.0,949.7 159.5,949.5 161.0,949.2 162.4,948.9 163.9,948.6 165.4,948.3 166.9,948.0 168.3,947.7 169.8,947.4 171.3,947.1 172.7,946.7 174.2,946.4 175.6,946.1 177.1,945.8 178.6,945.4 180.0,945.1 181.5,944.8 183.0,944.4 184.4,944.1 185.9,943.7 187.3,943.4 188.8,943.1 190.3,942.7 191.7,942.4 193.2,942.0 194.6,941.7 196.1,941.3 197.6,941.0 199.0,940.6 200.5,940.3 201.9,939.9 203.4,939.5 204.8,939.2 206.3,938.8 207.8,938.5 209.2,938.1 210.7,937.7 212.1,937.3 213.6,937.0 215.0,936.6 216.5,936.2 217.9,935.9 219.4,935.5 220.8,935.1 222.3,934.8 223.8,934.4 225.2,934.1 226.7,933.7 228.1,933.3 229.6,933.0 231.0,932.6 232.5,932.3 234.0,931.9 235.4,931.6 236.9,931.3 238.3,930.9 239.8,930.6 241.3,930.3 242.7,930.0 244.2,929.7 245.7,929.4 247.2,929.1 248.6,928.8 250.1,928.5 251.6,928.2 253.0,928.0 254.5,927.7 256.0,927.4 257.5,927.1 258.9,926.8 260.4,926.5 261.9,926.2 263.3,925.9 264.8,925.6 266.3,925.3 267.7,925.0 269.2,924.7 270.7,924.3 272.1,924.0 273.6,923.7 275.1,923.3 276.5,923.0 278.0,922.7 279.4,922.3 280.9,922.0 282.4,921.6 283.8,921.3 285.3,920.9 286.7,920.6 288.2,920.2 289.7,919.9 291.1,919.5 292.6,919.2 294.0,918.8 295.5,918.4 296.9,918.1 298.4,917.7 299.8,917.3 301.3,917.0 302.8,916.6 304.2,916.2 305.7,915.8 307.1,915.5 308.6,915.1 310.0,914.7 311.5,914.3 312.9,913.9 314.3,913.5 315.8,913.1 317.2,912.7 318.7,912.3 320.1,911.9 321.6,911.5 323.0,911.0 324.4,910.6 325.9,910.2 327.3,909.8 328.8,909.3 330.2,908.9 331.6,908.5 333.1,908.1 334.5,907.6 335.9,907.2 337.4,906.8 338.8,906.3 340.3,905.9 341.7,905.5 343.1,905.0 344.6,904.6 346.0,904.1 347.4,903.7 348.9,903.2 350.3,902.8 351.7,902.3 353.1,901.9 354.6,901.4 356.0,900.9 357.4,900.5 358.8,900.0 360.3,899.5 361.7,899.0 363.1,898.5 364.5,898.0 365.9,897.5 367.3,897.0 368.7,896.5 370.1,895.9 371.5,895.4 372.9,894.8 374.3,894.3 375.7,893.7 377.1,893.1 378.4,892.5 379.8,891.9 381.2,891.2 382.5,890.6 383.9,889.9 385.2,889.2 386.5,888.5 387.8,887.8 389.2,887.1 390.5,886.4 391.8,885.6 393.1,884.8 394.3,884.1 395.6,883.3 396.9,882.5 398.1,881.7 399.4,880.9 400.7,880.0 401.9,879.2 403.2,878.4 404.4,877.6 405.7,876.8 406.9,875.9 408.2,875.1 409.5,874.3 410.7,873.5 412.0,872.7 413.2,871.8 414.5,871.0 415.7,870.2 417.0,869.3 418.2,868.5 419.4,867.6 420.7,866.8 421.9,865.9 423.1,865.0 424.3,864.1 425.5,863.2 426.7,862.3 427.9,861.4 429.1,860.5 430.2,859.5 431.4,858.6 432.6,857.6 433.7,856.7 434.9,855.7 436.0,854.8 437.1,853.8 438.3,852.8 439.4,851.8 440.5,850.8 441.7,849.8 442.8,848.8 443.9,847.8 445.0,846.8 446.1,845.8 447.3,844.8 448.4,843.8 449.5,842.8 450.6,841.8 451.7,840.8 452.8,839.7 453.9,838.7 454.9,837.7 456.0,836.6 457.1,835.6 458.2,834.6 459.3,833.5 460.3,832.5 461.4,831.4 462.5,830.4 463.5,829.3 464.6,828.3 465.7,827.2 466.7,826.1 467.8,825.1 468.8,824.0 469.9,822.9 470.9,821.8 471.9,820.7 472.9,819.6 474.0,818.5 475.0,817.4 476.0,816.3 477.0,815.2 477.9,814.0 478.9,812.9 479.9,811.7 480.8,810.6 481.8,809.4 482.7,808.2 483.6,807.1 484.6,805.9 485.5,804.7 486.4,803.5 487.3,802.3 488.2,801.1 489.1,799.9 490.0,798.7 490.9,797.5 491.8,796.3 492.7,795.1 493.6,793.9 494.5,792.7 495.4,791.5 496.4,790.4 497.3,789.2 498.2,788.0 499.2,786.8 500.1,785.7 501.1,784.5 502.0,783.4 503.0,782.2 504.0,781.1 505.0,780.0 506.0,778.9 507.1,777.8 508.2,776.8 509.3,775.8 510.4,774.9 511.6,773.9 512.9,773.1 514.1,772.3 515.4,771.5 516.7,770.7 518.0,770.0 519.3,769.3 520.7,768.6 522.0,768.0 523.4,767.4 524.8,766.8 526.2,766.3 527.6,765.8 529.0,765.4 530.5,764.9 531.9,764.5 533.4,764.2 534.8,763.9 536.3,763.7 537.8,763.5 539.3,763.3 540.8,763.3 542.3,763.3 543.8,763.4 545.3,763.7 546.7,764.0 548.1,764.5 549.5,765.0 550.9,765.6 552.3,766.2 553.6,766.8 555.0,767.5 556.4,768.1 557.7,768.7 559.1,769.3 560.5,769.9 561.9,770.5 563.2,771.1 564.6,771.7 566.0,772.3 567.4,772.9 568.7,773.5 570.1,774.0 571.5,774.6 572.9,775.1 574.4,775.5 575.8,775.9 577.3,776.3 578.7,776.7 580.2,777.1 581.6,777.5 583.0,777.9 584.5,778.3 585.9,778.7 587.4,779.1 588.8,779.5 590.3,779.9 591.7,780.3 593.2,780.7 594.6,781.1 596.1,781.5 597.5,781.8 599.0,782.2 600.4,782.6 601.9,783.0 603.3,783.3 604.8,783.7 606.2,784.0 607.7,784.4 609.2,784.7 610.6,785.0 612.1,785.4 613.6,785.7 615.0,786.0 616.5,786.4 617.9,786.7 619.4,787.0 620.9,787.4 622.3,787.7 623.8,788.1 625.2,788.5 626.7,788.9 628.1,789.3 629.6,789.7 631.0,790.1 632.4,790.6 633.9,791.0 635.3,791.4 636.8,791.8 638.2,792.2 639.7,792.5 641.1,792.8 642.6,793.2 644.1,793.5 645.5,793.8 647.0,794.1 648.5,794.4 650.0,794.6 651.4,794.9 652.9,795.1 654.4,795.3 655.9,795.4 657.4,795.6 658.9,795.6 660.4,795.7 661.9,795.7 663.4,795.6 664.9,795.5 666.4,795.4 667.9,795.3 669.4,795.1 670.8,794.9 672.3,794.7 673.8,794.3 675.2,794.0 676.7,793.5 678.1,793.0 679.4,792.4 680.8,791.7 682.1,791.0 683.3,790.2 684.6,789.3 685.7,788.4 686.9,787.4 688.0,786.4 689.0,785.3 690.0,784.2 690.9,783.0 691.8,781.8 692.7,780.6 693.5,779.3 694.2,778.0 694.9,776.7 695.6,775.4 696.2,774.0 696.8,772.6 697.4,771.2 698.0,769.9 698.5,768.5 699.1,767.1 699.6,765.7 700.1,764.3 700.6,762.8 701.1,761.4 701.6,760.0 702.1,758.6 702.7,757.2 703.2,755.8 703.7,754.4 704.2,753.0 704.7,751.6 705.2,750.2 705.7,748.7 706.2,747.3 706.7,745.9 707.1,744.5 707.6,743.0 708.1,741.6 708.5,740.2 708.9,738.7 709.4,737.3 709.9,735.9 710.3,734.5 710.8,733.0 711.3,731.6 711.8,730.2 712.3,728.8 712.8,727.4 713.3,726.0 713.8,724.6 714.3,723.2 714.8,721.7 715.3,720.3 715.9,718.9 716.4,717.5 716.9,716.1 717.6,714.8 718.3,713.6 719.1,712.7 719.9,712.4 720.7,713.0 721.3,714.0 721.8,715.4 722.1,716.8 722.4,718.3 722.7,719.8 722.9,721.3 723.1,722.8 723.3,724.2 723.5,725.7 723.7,727.2 723.8,728.7 723.9,730.2 724.0,731.7 724.1,733.2 724.2,734.7 724.2,736.2 724.3,737.7 724.4,739.2 724.4,740.7 724.5,742.2 724.5,743.7 724.6,745.2 724.6,746.7 724.6,748.2 724.7,749.7 724.7,751.2 724.7,752.7 724.7,754.2 724.8,755.7 724.8,757.2 724.8,758.7 724.8,760.2 724.8,761.7 724.9,763.2 724.9,764.7 724.9,766.2 724.9,767.7 724.9,769.2 724.9,770.7 725.0,772.2 725.0,773.7 725.0,775.2 725.0,776.7 725.1,778.2 725.1,779.7 725.1,781.2 725.1,782.7 725.2,784.2 725.2,785.7 725.2,787.2 725.3,788.7 725.3,790.2 725.3,791.7 725.3,793.2 725.3,794.7 725.4,796.2 725.4,797.7 725.4,799.2 725.4,800.7 725.4,802.2 725.5,803.7 725.5,805.2 725.5,806.7 725.5,808.2 725.5,809.7 725.5,811.2 725.5,812.7 725.6,814.2 725.6,815.7 725.6,817.2 725.6,818.7 725.6,820.2 725.6,821.7 725.6,823.2 725.6,824.7 725.7,826.2 725.7,827.7 725.7,829.2 725.7,830.7 725.7,832.2 725.7,833.7 725.7,835.2 725.7,836.7 725.7,838.2 725.7,839.7 725.7,841.2 725.7,842.7 725.7,844.2 725.7,845.7 725.7,847.2 725.7,848.7 725.7,850.2 725.8,851.7 725.8,853.2 725.8,854.7 725.8,856.2 725.8,857.7 725.8,859.2 725.8,860.7 725.8,862.2 725.7,863.7 725.7,865.2 725.7,866.7 725.7,868.2 725.7,869.7 725.7,871.2 725.7,872.7 725.7,874.2 725.7,875.7 725.7,877.2 725.7,878.7 725.7,880.2 725.7,881.7 725.7,883.2 725.7,884.7 725.6,886.2 725.6,887.7 725.6,889.2 725.6,890.7 725.6,892.2 725.6,893.7 725.6,895.2 725.5,896.7 725.5,898.2 725.5,899.7 725.5,901.2 725.5,902.7 725.4,904.2 725.4,905.7 725.4,907.2 725.4,908.7 725.3,910.2 725.3,911.7 725.3,913.2 725.3,914.7 725.2,916.2 725.2,917.7 725.2,919.2 725.1,920.7 725.1,922.2 725.1,923.7 725.0,925.2 725.0,926.7 725.0,928.2 724.9,929.7 724.9,931.2 724.8,932.7 724.8,934.2 724.7,935.7 724.7,937.2 724.6,938.7 724.6,940.2 724.5,941.7 724.5,943.2 724.4,944.7 724.4,946.2 724.3,947.7 724.2,949.2 724.2,950.7 724.1,952.2 724.0,953.7 723.9,955.2 723.8,956.7 723.8,958.2 723.7,959.7 723.6,961.2 723.5,962.7 723.4,964.2 723.3,965.6 723.2,967.1 723.1,968.6 723.0,970.1 722.9,971.6 722.7,973.1 722.6,974.6 722.5,976.1 722.4,977.6 722.2,979.1 722.1,980.6 722.0,982.1 721.8,983.6 721.7,985.1 721.5,986.6 721.4,988.1 721.2,989.6 721.0,991.0 720.9,992.5 720.7,994.0 720.5,995.5 720.4,997.0 720.2,998.5 720.0,1000.0 719.8,1001.5 719.7,1003.0 719.5,1004.5 719.3,1005.9 719.1,1007.4 718.9,1008.9 718.8,1010.4 718.6,1011.9 718.4,1013.4 718.3,1014.9 718.1,1016.4 717.9,1017.9 717.8,1019.4 717.6,1020.8 717.4,1022.3 717.2,1023.8 717.0,1025.3 716.8,1026.8 716.6,1028.3 716.3,1029.8 716.1,1031.2 715.8,1032.7 715.5,1034.2 715.2,1035.7 714.9,1037.1 714.5,1038.6 714.1,1040.0 713.7,1041.5 713.2,1042.9 712.8,1044.3 712.3,1045.7 711.8,1047.1 711.3,1048.5 710.7,1049.9 710.1,1051.3 709.5,1052.7 708.8,1054.0 708.1,1055.3 707.2,1056.6 706.3,1057.7 705.3,1058.8 704.2,1059.8 703.0,1060.6 701.6,1061.3 700.2,1061.7 698.8,1062.1 697.3,1062.4 695.8,1062.5 694.3,1062.7 692.8,1062.8 691.3,1062.9 689.9,1063.0 688.4,1063.1 686.9,1063.1 685.4,1063.2 683.9,1063.2 682.4,1063.2 680.9,1063.2 679.4,1063.2 677.9,1063.1 676.4,1063.1 674.9,1063.0 673.4,1062.9 671.9,1062.9 670.4,1062.8 668.9,1062.7 667.4,1062.7 665.9,1062.6 664.4,1062.6 662.9,1062.5 661.4,1062.5 659.9,1062.4 658.4,1062.4 656.9,1062.3 655.4,1062.3 653.9,1062.2 652.4,1062.1 650.9,1062.1 649.4,1062.0 647.9,1062.0 646.4,1062.0 644.9,1062.0 643.4,1062.0 641.9,1062.0 640.4,1062.1 638.9,1062.2 637.4,1062.4 635.9,1062.5 634.4,1062.7 632.9,1062.9 631.4,1063.1 630.0,1063.2 628.5,1063.3 627.0,1063.4 625.5,1063.5 624.0,1063.5 622.5,1063.4 621.0,1063.3 619.5,1063.3 618.0,1063.1 616.5,1063.0 615.0,1062.9 613.5,1062.7 612.0,1062.6 610.5,1062.4 609.0,1062.2 607.5,1062.0 606.0,1061.8 604.6,1061.6 603.1,1061.4 601.6,1061.2 600.1,1061.0 598.6,1060.7 597.2,1060.5 595.7,1060.2 594.2,1059.8 592.8,1059.5 591.3,1059.2 589.8,1059.0 588.3,1058.7 586.8,1058.5 585.4,1058.2 583.9,1058.0 582.4,1057.8 580.9,1057.6 579.4,1057.5 577.9,1057.4 576.4,1057.3 574.9,1057.4 573.4,1057.5 572.0,1057.7 570.5,1057.9 569.0,1058.2 567.6,1058.6 566.1,1059.0 564.7,1059.5 563.3,1060.0 561.9,1060.5 560.5,1061.0 559.1,1061.5 557.7,1062.1 556.3,1062.6 554.9,1063.2 553.5,1063.8 552.1,1064.4 550.8,1065.0 549.4,1065.7 548.1,1066.3 546.7,1067.0 545.4,1067.7 544.0,1068.4 542.7,1069.0 541.4,1069.7 540.0,1070.4 538.7,1071.0 537.3,1071.7 536.0,1072.3 534.6,1072.9 533.2,1073.5 531.9,1074.2 530.5,1074.8 529.1,1075.4 527.8,1076.0 526.4,1076.6 525.0,1077.2 523.6,1077.8 522.2,1078.3 520.8,1078.8 519.4,1079.3 517.9,1079.7 516.5,1080.1 515.0,1080.4 513.6,1080.7 512.1,1080.9 510.6,1081.1 509.1,1081.2 507.6,1081.3 506.1,1081.2 504.6,1081.1 503.1,1081.0 501.6,1080.8 500.2,1080.5 498.7,1080.2 497.2,1079.8 495.8,1079.4 494.4,1079.0 492.9,1078.5 491.5,1078.0 490.2,1077.4 488.8,1076.8 487.5,1076.1 486.2,1075.3 485.0,1074.4 483.8,1073.5 482.7,1072.5 481.5,1071.6 480.3,1070.6 479.2,1069.7 478.0,1068.8 476.8,1067.9 475.6,1066.9 474.4,1066.0 473.2,1065.1 472.1,1064.2 470.9,1063.2 469.7,1062.3 468.5,1061.4 467.3,1060.5 466.2,1059.5 465.0,1058.6 463.8,1057.7 462.7,1056.7 461.5,1055.8 460.3,1054.8 459.2,1053.9 458.0,1052.9 456.8,1052.0 455.7,1051.0 454.5,1050.1 453.4,1049.1 452.3,1048.1 451.1,1047.1 450.0,1046.1 448.9,1045.1 447.8,1044.1 446.7,1043.1 445.6,1042.1 444.5,1041.1 443.4,1040.0 442.3,1039.0 441.2,1038.0 440.1,1037.0 439.0,1035.9 437.9,1034.9 436.8,1033.9 435.7,1032.9 434.6,1031.8 433.5,1030.8 432.4,1029.9 431.2,1028.9 430.1,1027.9 428.9,1026.9 427.8,1026.0 426.6,1025.1 425.4,1024.2 424.2,1023.3 423.0,1022.4 421.8,1021.5 420.5,1020.6 419.3,1019.8 418.1,1018.9 416.8,1018.1 415.6,1017.3 414.3,1016.5 413.1,1015.6 411.8,1014.8 410.5,1014.0 409.3,1013.2 408.0,1012.5 406.7,1011.7 405.4,1010.9 404.1,1010.1 402.8,1009.4 401.5,1008.6 400.2,1007.8 398.9,1007.1 397.6,1006.4 396.3,1005.6 395.0,1004.9 393.7,1004.2 392.4,1003.5 391.1,1002.8 389.7,1002.1 388.3,1001.5 387.0,1000.9 385.6,1000.3 384.2,999.7 382.8,999.2 381.4,998.7 380.0,998.2 378.6,997.7 377.1,997.3 375.7,996.8 374.3,996.4 372.8,996.0 371.4,995.6 369.9,995.1 368.5,994.7 367.1,994.3 365.6,993.9 364.2,993.4 362.7,993.0 361.3,992.6 359.9,992.1 358.4,991.7 357.0,991.3 355.6,990.8 354.1,990.4 352.7,990.0 351.2,989.6 349.8,989.2 348.3,988.8 346.9,988.5 345.4,988.1 344.0,987.8 342.5,987.4 341.0,987.1 339.6,986.8 338.1,986.5 336.6,986.2 335.2,985.9 333.7,985.7 332.2,985.4 330.7,985.2 329.2,984.9 327.8,984.7 326.3,984.4 324.8,984.2 323.3,983.9 321.8,983.7 320.4,983.5 318.9,983.3 317.4,983.1 315.9,982.9 314.4,982.7 312.9,982.5 311.4,982.3 309.9,982.1 308.5,981.9 307.0,981.8 305.5,981.6 304.0,981.4 302.5,981.3 301.0,981.1 299.5,981.0 298.0,980.8 296.5,980.7 295.0,980.5 293.5,980.4 292.0,980.3 290.5,980.1 289.1,980.0 287.6,979.9 286.1,979.8 284.6,979.6 283.1,979.5 281.6,979.4 280.1,979.3 278.6,979.2 277.1,979.1 275.6,978.9 274.1,978.8 272.6,978.7 271.1,978.6 269.6,978.5 268.1,978.3 266.6,978.2 265.1,978.1 263.6,977.9 262.1,977.8 260.7,977.7 259.2,977.5 257.7,977.4 256.2,977.2 254.7,977.1 253.2,977.0 251.7,976.8 250.2,976.7 248.7,976.6 247.2,976.5 245.7,976.4 244.2,976.3 242.7,976.2 241.2,976.1 239.7,976.0 238.2,975.9 236.7,975.8 235.2,975.7 233.7,975.7 232.2,975.6 230.7,975.5 229.2,975.4 227.7,975.4 226.2,975.3 224.7,975.2 223.2,975.2 221.7,975.1 220.2,975.1 218.7,975.0 217.2,974.9 215.7,974.9 214.2,974.8 212.7,974.8 211.2,974.7 209.7,974.7 208.2,974.6 206.7,974.6 205.2,974.5 203.7,974.5 202.2,974.5 200.8,974.4 199.3,974.4 197.8,974.3 196.3,974.3 194.8,974.3 193.3,974.2 191.8,974.2 190.3,974.2 188.8,974.1 187.3,974.1 185.8,974.1 184.3,974.1 182.8,974.0 181.3,974.0 179.8,974.0 178.3,974.0 176.8,974.0 175.3,974.0 173.8,973.9 172.3,973.9 170.8,973.9 169.3,973.9 167.8,973.9 166.3,973.9 164.8,973.9 163.3,973.9 161.8,973.9 160.3,973.9 158.8,973.9 157.3,974.0 155.8,974.0 154.3,974.0 152.8,974.0 151.3,974.0 149.8,974.1 148.3,974.1 146.8,974.2 145.3,974.2 143.8,974.3 142.3,974.4 140.8,974.5 139.3,974.7 137.8,975.0 136.4,975.2 135.1,975.3 134.0,974.8Z" stroke="#000" stroke-width="3.6" fill="none" stroke-linecap="round" stroke-linejoin="round"/></g>
<path d="M109.3 568.5v-10M109.3 52.5v10M149.4 568.5v-6M149.4 52.5v6M189.6 568.5v-10M189.6 52.5v10M229.7 568.5v-6M229.7 52.5v6M269.8 568.5v-10M269.8 52.5v10M309.9 568.5v-6M309.9 52.5v6M350.1 568.5v-10M350.1 52.5v10M390.2 568.5v-6M390.2 52.5v6M430.3 568.5v-10M430.3 52.5v10M470.4 568.5v-6M470.4 52.5v6M510.6 568.5v-10M510.6 52.5v10M550.7 568.5v-6M550.7 52.5v6M590.8 568.5v-10M590.8 52.5v10M630.9 568.5v-6M630.9 52.5v6M671.0 568.5v-10M671.0 52.5v10M711.2 568.5v-6M711.2 52.5v6M751.3 568.5v-10M751.3 52.5v10M109.3 568.5h10M751.3 568.5h-10M109.3 525.5h6M751.3 525.5h-6M109.3 482.5h10M751.3 482.5h-10M109.3 439.5h6M751.3 439.5h-6M109.3 396.5h10M751.3 396.5h-10M109.3 353.5h6M751.3 353.5h-6M109.3 310.5h10M751.3 310.5h-10M109.3 267.5h6M751.3 267.5h-6M109.3 224.5h10M751.3 224.5h-10M109.3 181.5h6M751.3 181.5h-6M109.3 138.5h10M751.3 138.5h-10M109.3 95.5h6M751.3 95.5h-6M109.3 52.5h10M751.3 52.5h-10" stroke="#000" stroke-width="2" fill="none"/>
<rect x="109.3" y="52.5" width="642.0" height="516.0" fill="none" stroke="#000" stroke-width="2.2"/>
<path d="M108.4 1196.9v-10M108.4 677.6v10M151.4 1196.9v-6M151.4 677.6v6M194.4 1196.9v-10M194.4 677.6v10M237.4 1196.9v-6M237.4 677.6v6M280.5 1196.9v-10M280.5 677.6v10M323.5 1196.9v-6M323.5 677.6v6M366.5 1196.9v-10M366.5 677.6v10M409.5 1196.9v-6M409.5 677.6v6M452.5 1196.9v-10M452.5 677.6v10M495.5 1196.9v-6M495.5 677.6v6M538.5 1196.9v-10M538.5 677.6v10M581.5 1196.9v-6M581.5 677.6v6M624.6 1196.9v-10M624.6 677.6v10M667.6 1196.9v-6M667.6 677.6v6M710.6 1196.9v-10M710.6 677.6v10M753.6 1196.9v-6M753.6 677.6v6M108.4 1196.9h10M753.6 1196.9h-10M108.4 1132.0h6M753.6 1132.0h-6M108.4 1067.1h10M753.6 1067.1h-10M108.4 1002.2h6M753.6 1002.2h-6M108.4 937.2h10M753.6 937.2h-10M108.4 872.3h6M753.6 872.3h-6M108.4 807.4h10M753.6 807.4h-10M108.4 742.5h6M753.6 742.5h-6M108.4 677.6h10M753.6 677.6h-10" stroke="#000" stroke-width="2" fill="none"/>
<rect x="108.4" y="677.6" width="645.2" height="519.3" fill="none" stroke="#000" stroke-width="2.2"/>
<g style="font-family:'Liberation Sans',sans-serif;font-size:21.3px" fill="#000" stroke="#000" stroke-width="0.15"><text transform="translate(109.3,595.7) scale(1,1.08)" text-anchor="middle">0</text><text transform="translate(189.6,595.7) scale(1,1.08)" text-anchor="middle">1</text><text transform="translate(269.8,595.7) scale(1,1.08)" text-anchor="middle">2</text><text transform="translate(350.1,595.7) scale(1,1.08)" text-anchor="middle">3</text><text transform="translate(430.3,595.7) scale(1,1.08)" text-anchor="middle">4</text><text transform="translate(510.6,595.7) scale(1,1.08)" text-anchor="middle">5</text><text transform="translate(590.8,595.7) scale(1,1.08)" text-anchor="middle">6</text><text transform="translate(671.0,595.7) scale(1,1.08)" text-anchor="middle">7</text><text transform="translate(751.3,595.7) scale(1,1.08)" text-anchor="middle">8</text><text transform="translate(97.0,574.5) scale(1,1.08)" text-anchor="end">1.6</text><text transform="translate(97.0,488.5) scale(1,1.08)" text-anchor="end">1.7</text><text transform="translate(97.0,402.5) scale(1,1.08)" text-anchor="end">1.8</text><text transform="translate(97.0,316.5) scale(1,1.08)" text-anchor="end">1.9</text><text transform="translate(97.0,230.5) scale(1,1.08)" text-anchor="end">2.0</text><text transform="translate(97.0,144.5) scale(1,1.08)" text-anchor="end">2.1</text><text transform="translate(97.0,58.5) scale(1,1.08)" text-anchor="end">2.2</text><text transform="translate(108.4,1225.6) scale(1,1.08)" text-anchor="middle">0.0</text><text transform="translate(194.4,1225.6) scale(1,1.08)" text-anchor="middle">0.2</text><text transform="translate(280.5,1225.6) scale(1,1.08)" text-anchor="middle">0.4</text><text transform="translate(366.5,1225.6) scale(1,1.08)" text-anchor="middle">0.6</text><text transform="translate(452.5,1225.6) scale(1,1.08)" text-anchor="middle">0.8</text><text transform="translate(538.5,1225.6) scale(1,1.08)" text-anchor="middle">1.0</text><text transform="translate(624.6,1225.6) scale(1,1.08)" text-anchor="middle">1.2</text><text transform="translate(710.6,1225.6) scale(1,1.08)" text-anchor="middle">1.4</text><text transform="translate(96.3,684.0) scale(1,1.08)" text-anchor="end">2</text><text transform="translate(96.3,813.8) scale(1,1.08)" text-anchor="end">1</text><text transform="translate(96.3,943.6) scale(1,1.08)" text-anchor="end">0</text><text transform="translate(96.3,1073.5) scale(1,1.08)" text-anchor="end">-1</text><text transform="translate(96.3,1203.3) scale(1,1.08)" text-anchor="end">-2</text></g>
<text x="104.5" y="26.5" style="font-family:'Liberation Sans',sans-serif;font-weight:bold;font-size:34.5px">(a)</text>
<text x="113.5" y="652" style="font-family:'Liberation Sans',sans-serif;font-weight:bold;font-size:34px">(b)</text>
<text x="428" y="637.7" text-anchor="middle" style="font-family:'Liberation Serif',serif;font-size:35px">Time [h]</text>
<text transform="translate(26,291.5) rotate(-90)" text-anchor="middle" style="font-family:'Liberation Serif',serif;font-size:33.5px">E vs RHE [V]</text>
<text transform="translate(47.3,923) rotate(-90)" text-anchor="middle" style="font-family:'Liberation Serif',serif;font-size:27.5px">Current density (mA/cm<tspan dy="-11" style="font-size:17px">2</tspan><tspan dy="11">)</tspan></text>
<text x="312" y="1267.4" style="font-family:'Liberation Serif',serif;font-size:27.5px">E<tspan dy="7" style="font-size:16px">iR-corrected</tspan><tspan dy="-7"> vs RHE [V]</tspan></text>
<path d="M136.5 88.2H177" stroke="#0a0ad8" stroke-width="3.5" stroke-linecap="round"/>
<text x="206" y="93.7" style="font-family:'Liberation Serif',serif;font-size:23px">TS</text>
<path d="M136.5 117.1H177" stroke="#1fbf88" stroke-width="3.5" stroke-linecap="round"/>
<text x="189" y="122.6" style="font-family:'Liberation Serif',serif;font-size:23px">2 TS</text>
<path d="M136.5 146.0H177" stroke="#e4101c" stroke-width="3.5" stroke-linecap="round"/>
<text x="189" y="151.5" style="font-family:'Liberation Serif',serif;font-size:23px">3 TS</text>
<path d="M136.5 174.9H177" stroke="#8a0ac0" stroke-width="3.5" stroke-linecap="round"/>
<text x="189" y="180.4" style="font-family:'Liberation Serif',serif;font-size:23px">Potential jump</text>
<path d="M124.5 705.8H174" stroke="#000" stroke-width="3.4" stroke-linecap="round"/>
<text x="179" y="712.8" style="font-family:'Liberation Serif',serif;font-size:17.2px;white-space:pre" xml:space="preserve">Pristine CV (Ar)</text>
<path d="M124.5 733.4H174" stroke="#0a0ad8" stroke-width="3.4" stroke-linecap="round"/>
<text x="179" y="740.4" style="font-family:'Liberation Serif',serif;font-size:17.2px;white-space:pre" xml:space="preserve">CV after  TS (Ar)</text>
<path d="M124.5 761.0H174" stroke="#1fbf88" stroke-width="3.4" stroke-linecap="round"/>
<text x="179" y="768.0" style="font-family:'Liberation Serif',serif;font-size:17.2px;white-space:pre" xml:space="preserve">CV after 2 TS (Ar)</text>
<path d="M124.5 788.6H174" stroke="#e4101c" stroke-width="3.4" stroke-linecap="round"/>
<text x="179" y="795.6" style="font-family:'Liberation Serif',serif;font-size:17.2px;white-space:pre" xml:space="preserve">CV after 3 TS (Ar)</text>
<path d="M124.5 816.2H174" stroke="#b444f0" stroke-width="3.4" stroke-linecap="round"/>
<text x="179" y="823.2" style="font-family:'Liberation Serif',serif;font-size:17.2px;white-space:pre" xml:space="preserve">CV after potential jump (Ar)</text>
<path d="M124.5 843.8H174" stroke="#000" stroke-width="3.4" stroke-linecap="round"/>
<text x="179" y="850.8" style="font-family:'Liberation Serif',serif;font-size:17.2px;white-space:pre" xml:space="preserve">Pure gold CV</text>
</svg>
</body></html>
